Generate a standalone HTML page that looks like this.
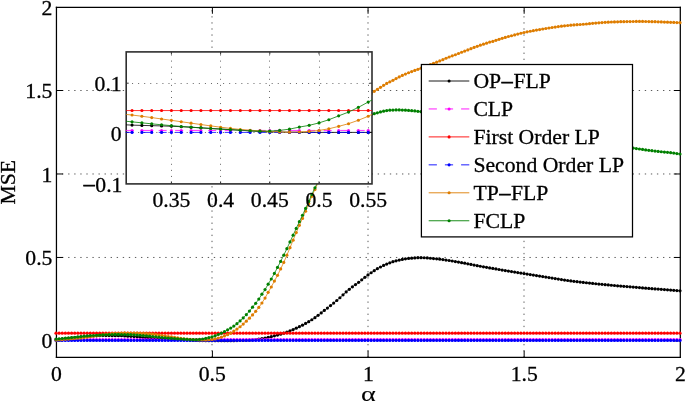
<!DOCTYPE html>
<html><head><meta charset="utf-8"><title>MSE vs alpha</title>
<style>html,body{margin:0;padding:0;background:#fff;}svg{display:block;}</style>
</head><body>
<svg width="685" height="402" viewBox="0 0 685 402">
<rect width="685" height="402" fill="#fff"/>
<defs>
<clipPath id="cm"><rect x="56.45" y="7.05" width="623.8499999999999" height="350.4"/></clipPath>
<clipPath id="ci"><rect x="126.2" y="51.9" width="245.8" height="132.0"/></clipPath>
</defs>
<g fill="none">
<line x1="212.0" y1="357.45" x2="212.0" y2="7.05" stroke="#5a5a5a" stroke-width="1" stroke-dasharray="1.35 4.72"/>
<line x1="368.0" y1="357.45" x2="368.0" y2="7.05" stroke="#5a5a5a" stroke-width="1" stroke-dasharray="1.35 4.72"/>
<line x1="524.0" y1="357.45" x2="524.0" y2="7.05" stroke="#5a5a5a" stroke-width="1" stroke-dasharray="1.35 4.72"/>
<line x1="56.0" y1="257.46" x2="680.3" y2="257.46" stroke="#5a5a5a" stroke-width="1" stroke-dasharray="1.35 4.72"/>
<line x1="56.0" y1="173.98" x2="680.3" y2="173.98" stroke="#5a5a5a" stroke-width="1" stroke-dasharray="1.35 4.72"/>
<line x1="56.0" y1="90.50" x2="680.3" y2="90.50" stroke="#5a5a5a" stroke-width="1" stroke-dasharray="1.35 4.72"/>
</g>
<g stroke="#000" stroke-width="1.3" stroke-linecap="square"><line x1="56.45" y1="7.3" x2="680.3" y2="7.3"/><line x1="56.45" y1="357.4" x2="680.3" y2="357.4"/><line x1="56.45" y1="7.3" x2="56.45" y2="357.4" stroke-width="1.25"/><line x1="680.3" y1="7.3" x2="680.3" y2="357.4" stroke-width="1.25"/></g>
<g stroke="#000" stroke-width="1">
<line x1="212.4" y1="357.45" x2="212.4" y2="350.75"/>
<line x1="212.4" y1="7.05" x2="212.4" y2="13.75"/>
<line x1="368.05" y1="357.45" x2="368.05" y2="350.75"/>
<line x1="368.05" y1="7.05" x2="368.05" y2="13.75"/>
<line x1="524.15" y1="357.45" x2="524.15" y2="350.75"/>
<line x1="524.15" y1="7.05" x2="524.15" y2="13.75"/>
<line x1="56.45" y1="340.94" x2="62.95" y2="340.94"/>
<line x1="680.3" y1="340.94" x2="673.8" y2="340.94"/>
<line x1="56.45" y1="257.46" x2="62.95" y2="257.46"/>
<line x1="680.3" y1="257.46" x2="673.8" y2="257.46"/>
<line x1="56.45" y1="173.98" x2="62.95" y2="173.98"/>
<line x1="680.3" y1="173.98" x2="673.8" y2="173.98"/>
<line x1="56.45" y1="90.5" x2="62.95" y2="90.5"/>
<line x1="680.3" y1="90.5" x2="673.8" y2="90.5"/>
</g>
<polyline points="56.00,339.68 59.12,339.31 62.24,338.95 65.36,338.60 68.48,338.26 71.60,337.94 74.72,337.61 77.84,337.28 80.96,336.96 84.08,336.68 87.20,336.44 90.32,336.21 93.44,335.99 96.56,335.79 99.68,335.66 102.80,335.60 105.92,335.61 109.04,335.62 112.16,335.64 115.28,335.66 118.40,335.69 121.52,335.77 124.64,335.93 127.76,336.14 130.88,336.37 134.00,336.60 137.12,336.87 140.24,337.19 143.36,337.52 146.48,337.83 149.60,338.07 152.72,338.21 155.84,338.32 158.96,338.40 162.08,338.49 165.20,338.60 168.32,338.75 171.44,338.94 174.56,339.14 177.68,339.35 180.80,339.55 183.92,339.75 187.04,339.95 190.16,340.17 193.28,340.39 196.40,340.52 199.52,340.57 202.64,340.62 205.76,340.65 208.88,340.68 212.00,340.68 215.12,340.68 218.24,340.68 221.36,340.68 224.48,340.68 227.60,340.68 230.72,340.67 233.84,340.63 236.96,340.57 240.08,340.51 243.20,340.43 246.32,340.34 249.44,340.20 252.56,339.96 255.68,339.58 258.80,339.11 261.92,338.60 265.04,338.04 268.16,337.37 271.28,336.64 274.40,335.85 277.52,335.03 280.64,334.13 283.76,333.14 286.88,332.05 290.00,330.84 293.12,329.54 296.24,328.15 299.36,326.69 302.48,325.14 305.60,323.47 308.72,321.67 311.84,319.75 314.96,317.64 318.08,315.31 321.20,312.88 324.32,310.45 327.44,308.03 330.56,305.58 333.68,303.08 336.80,300.49 339.92,297.73 343.04,294.84 346.16,291.97 349.28,289.28 352.40,286.87 355.52,284.60 358.64,282.30 361.76,279.84 364.88,277.29 368.00,274.92 371.12,272.74 374.24,270.64 377.36,268.71 380.48,266.99 383.60,265.47 386.72,264.06 389.84,262.78 392.96,261.70 396.08,260.83 399.20,260.06 402.32,259.38 405.44,258.83 408.56,258.45 411.68,258.15 414.80,257.89 417.92,257.71 421.04,257.65 424.16,257.74 427.28,257.95 430.40,258.23 433.52,258.53 436.64,258.83 439.76,259.18 442.88,259.59 446.00,260.05 449.12,260.51 452.24,261.00 455.36,261.53 458.48,262.08 461.60,262.64 464.72,263.22 467.84,263.84 470.96,264.47 474.08,265.09 477.20,265.69 480.32,266.25 483.44,266.80 486.56,267.34 489.68,267.88 492.80,268.42 495.92,268.97 499.04,269.51 502.16,270.04 505.28,270.57 508.40,271.08 511.52,271.59 514.64,272.09 517.76,272.59 520.88,273.09 524.00,273.58 527.12,274.09 530.24,274.60 533.36,275.10 536.48,275.60 539.60,276.10 542.72,276.59 545.84,277.08 548.96,277.57 552.08,278.07 555.20,278.57 558.32,279.07 561.44,279.55 564.56,280.03 567.68,280.48 570.80,280.92 573.92,281.32 577.04,281.71 580.16,282.07 583.28,282.43 586.40,282.77 589.52,283.10 592.64,283.43 595.76,283.74 598.88,284.05 602.00,284.36 605.12,284.66 608.24,284.95 611.36,285.23 614.48,285.51 617.60,285.78 620.72,286.05 623.84,286.31 626.96,286.58 630.08,286.85 633.20,287.11 636.32,287.37 639.44,287.62 642.56,287.88 645.68,288.13 648.80,288.38 651.92,288.63 655.04,288.88 658.16,289.12 661.28,289.36 664.40,289.61 667.52,289.85 670.64,290.08 673.76,290.32 676.88,290.55 680.00,290.78" fill="none" stroke="#000000" stroke-width="0.75"/>
<g fill="#000000">
<circle cx="56.00" cy="339.68" r="1.6"/>
<circle cx="59.12" cy="339.31" r="1.6"/>
<circle cx="62.24" cy="338.95" r="1.6"/>
<circle cx="65.36" cy="338.60" r="1.6"/>
<circle cx="68.48" cy="338.26" r="1.6"/>
<circle cx="71.60" cy="337.94" r="1.6"/>
<circle cx="74.72" cy="337.61" r="1.6"/>
<circle cx="77.84" cy="337.28" r="1.6"/>
<circle cx="80.96" cy="336.96" r="1.6"/>
<circle cx="84.08" cy="336.68" r="1.6"/>
<circle cx="87.20" cy="336.44" r="1.6"/>
<circle cx="90.32" cy="336.21" r="1.6"/>
<circle cx="93.44" cy="335.99" r="1.6"/>
<circle cx="96.56" cy="335.79" r="1.6"/>
<circle cx="99.68" cy="335.66" r="1.6"/>
<circle cx="102.80" cy="335.60" r="1.6"/>
<circle cx="105.92" cy="335.61" r="1.6"/>
<circle cx="109.04" cy="335.62" r="1.6"/>
<circle cx="112.16" cy="335.64" r="1.6"/>
<circle cx="115.28" cy="335.66" r="1.6"/>
<circle cx="118.40" cy="335.69" r="1.6"/>
<circle cx="121.52" cy="335.77" r="1.6"/>
<circle cx="124.64" cy="335.93" r="1.6"/>
<circle cx="127.76" cy="336.14" r="1.6"/>
<circle cx="130.88" cy="336.37" r="1.6"/>
<circle cx="134.00" cy="336.60" r="1.6"/>
<circle cx="137.12" cy="336.87" r="1.6"/>
<circle cx="140.24" cy="337.19" r="1.6"/>
<circle cx="143.36" cy="337.52" r="1.6"/>
<circle cx="146.48" cy="337.83" r="1.6"/>
<circle cx="149.60" cy="338.07" r="1.6"/>
<circle cx="152.72" cy="338.21" r="1.6"/>
<circle cx="155.84" cy="338.32" r="1.6"/>
<circle cx="158.96" cy="338.40" r="1.6"/>
<circle cx="162.08" cy="338.49" r="1.6"/>
<circle cx="165.20" cy="338.60" r="1.6"/>
<circle cx="168.32" cy="338.75" r="1.6"/>
<circle cx="171.44" cy="338.94" r="1.6"/>
<circle cx="174.56" cy="339.14" r="1.6"/>
<circle cx="177.68" cy="339.35" r="1.6"/>
<circle cx="180.80" cy="339.55" r="1.6"/>
<circle cx="183.92" cy="339.75" r="1.6"/>
<circle cx="187.04" cy="339.95" r="1.6"/>
<circle cx="190.16" cy="340.17" r="1.6"/>
<circle cx="193.28" cy="340.39" r="1.6"/>
<circle cx="196.40" cy="340.52" r="1.6"/>
<circle cx="199.52" cy="340.57" r="1.6"/>
<circle cx="202.64" cy="340.62" r="1.6"/>
<circle cx="205.76" cy="340.65" r="1.6"/>
<circle cx="208.88" cy="340.68" r="1.6"/>
<circle cx="212.00" cy="340.68" r="1.6"/>
<circle cx="215.12" cy="340.68" r="1.6"/>
<circle cx="218.24" cy="340.68" r="1.6"/>
<circle cx="221.36" cy="340.68" r="1.6"/>
<circle cx="224.48" cy="340.68" r="1.6"/>
<circle cx="227.60" cy="340.68" r="1.6"/>
<circle cx="230.72" cy="340.67" r="1.6"/>
<circle cx="233.84" cy="340.63" r="1.6"/>
<circle cx="236.96" cy="340.57" r="1.6"/>
<circle cx="240.08" cy="340.51" r="1.6"/>
<circle cx="243.20" cy="340.43" r="1.6"/>
<circle cx="246.32" cy="340.34" r="1.6"/>
<circle cx="249.44" cy="340.20" r="1.6"/>
<circle cx="252.56" cy="339.96" r="1.6"/>
<circle cx="255.68" cy="339.58" r="1.6"/>
<circle cx="258.80" cy="339.11" r="1.6"/>
<circle cx="261.92" cy="338.60" r="1.6"/>
<circle cx="265.04" cy="338.04" r="1.6"/>
<circle cx="268.16" cy="337.37" r="1.6"/>
<circle cx="271.28" cy="336.64" r="1.6"/>
<circle cx="274.40" cy="335.85" r="1.6"/>
<circle cx="277.52" cy="335.03" r="1.6"/>
<circle cx="280.64" cy="334.13" r="1.6"/>
<circle cx="283.76" cy="333.14" r="1.6"/>
<circle cx="286.88" cy="332.05" r="1.6"/>
<circle cx="290.00" cy="330.84" r="1.6"/>
<circle cx="293.12" cy="329.54" r="1.6"/>
<circle cx="296.24" cy="328.15" r="1.6"/>
<circle cx="299.36" cy="326.69" r="1.6"/>
<circle cx="302.48" cy="325.14" r="1.6"/>
<circle cx="305.60" cy="323.47" r="1.6"/>
<circle cx="308.72" cy="321.67" r="1.6"/>
<circle cx="311.84" cy="319.75" r="1.6"/>
<circle cx="314.96" cy="317.64" r="1.6"/>
<circle cx="318.08" cy="315.31" r="1.6"/>
<circle cx="321.20" cy="312.88" r="1.6"/>
<circle cx="324.32" cy="310.45" r="1.6"/>
<circle cx="327.44" cy="308.03" r="1.6"/>
<circle cx="330.56" cy="305.58" r="1.6"/>
<circle cx="333.68" cy="303.08" r="1.6"/>
<circle cx="336.80" cy="300.49" r="1.6"/>
<circle cx="339.92" cy="297.73" r="1.6"/>
<circle cx="343.04" cy="294.84" r="1.6"/>
<circle cx="346.16" cy="291.97" r="1.6"/>
<circle cx="349.28" cy="289.28" r="1.6"/>
<circle cx="352.40" cy="286.87" r="1.6"/>
<circle cx="355.52" cy="284.60" r="1.6"/>
<circle cx="358.64" cy="282.30" r="1.6"/>
<circle cx="361.76" cy="279.84" r="1.6"/>
<circle cx="364.88" cy="277.29" r="1.6"/>
<circle cx="368.00" cy="274.92" r="1.6"/>
<circle cx="371.12" cy="272.74" r="1.6"/>
<circle cx="374.24" cy="270.64" r="1.6"/>
<circle cx="377.36" cy="268.71" r="1.6"/>
<circle cx="380.48" cy="266.99" r="1.6"/>
<circle cx="383.60" cy="265.47" r="1.6"/>
<circle cx="386.72" cy="264.06" r="1.6"/>
<circle cx="389.84" cy="262.78" r="1.6"/>
<circle cx="392.96" cy="261.70" r="1.6"/>
<circle cx="396.08" cy="260.83" r="1.6"/>
<circle cx="399.20" cy="260.06" r="1.6"/>
<circle cx="402.32" cy="259.38" r="1.6"/>
<circle cx="405.44" cy="258.83" r="1.6"/>
<circle cx="408.56" cy="258.45" r="1.6"/>
<circle cx="411.68" cy="258.15" r="1.6"/>
<circle cx="414.80" cy="257.89" r="1.6"/>
<circle cx="417.92" cy="257.71" r="1.6"/>
<circle cx="421.04" cy="257.65" r="1.6"/>
<circle cx="424.16" cy="257.74" r="1.6"/>
<circle cx="427.28" cy="257.95" r="1.6"/>
<circle cx="430.40" cy="258.23" r="1.6"/>
<circle cx="433.52" cy="258.53" r="1.6"/>
<circle cx="436.64" cy="258.83" r="1.6"/>
<circle cx="439.76" cy="259.18" r="1.6"/>
<circle cx="442.88" cy="259.59" r="1.6"/>
<circle cx="446.00" cy="260.05" r="1.6"/>
<circle cx="449.12" cy="260.51" r="1.6"/>
<circle cx="452.24" cy="261.00" r="1.6"/>
<circle cx="455.36" cy="261.53" r="1.6"/>
<circle cx="458.48" cy="262.08" r="1.6"/>
<circle cx="461.60" cy="262.64" r="1.6"/>
<circle cx="464.72" cy="263.22" r="1.6"/>
<circle cx="467.84" cy="263.84" r="1.6"/>
<circle cx="470.96" cy="264.47" r="1.6"/>
<circle cx="474.08" cy="265.09" r="1.6"/>
<circle cx="477.20" cy="265.69" r="1.6"/>
<circle cx="480.32" cy="266.25" r="1.6"/>
<circle cx="483.44" cy="266.80" r="1.6"/>
<circle cx="486.56" cy="267.34" r="1.6"/>
<circle cx="489.68" cy="267.88" r="1.6"/>
<circle cx="492.80" cy="268.42" r="1.6"/>
<circle cx="495.92" cy="268.97" r="1.6"/>
<circle cx="499.04" cy="269.51" r="1.6"/>
<circle cx="502.16" cy="270.04" r="1.6"/>
<circle cx="505.28" cy="270.57" r="1.6"/>
<circle cx="508.40" cy="271.08" r="1.6"/>
<circle cx="511.52" cy="271.59" r="1.6"/>
<circle cx="514.64" cy="272.09" r="1.6"/>
<circle cx="517.76" cy="272.59" r="1.6"/>
<circle cx="520.88" cy="273.09" r="1.6"/>
<circle cx="524.00" cy="273.58" r="1.6"/>
<circle cx="527.12" cy="274.09" r="1.6"/>
<circle cx="530.24" cy="274.60" r="1.6"/>
<circle cx="533.36" cy="275.10" r="1.6"/>
<circle cx="536.48" cy="275.60" r="1.6"/>
<circle cx="539.60" cy="276.10" r="1.6"/>
<circle cx="542.72" cy="276.59" r="1.6"/>
<circle cx="545.84" cy="277.08" r="1.6"/>
<circle cx="548.96" cy="277.57" r="1.6"/>
<circle cx="552.08" cy="278.07" r="1.6"/>
<circle cx="555.20" cy="278.57" r="1.6"/>
<circle cx="558.32" cy="279.07" r="1.6"/>
<circle cx="561.44" cy="279.55" r="1.6"/>
<circle cx="564.56" cy="280.03" r="1.6"/>
<circle cx="567.68" cy="280.48" r="1.6"/>
<circle cx="570.80" cy="280.92" r="1.6"/>
<circle cx="573.92" cy="281.32" r="1.6"/>
<circle cx="577.04" cy="281.71" r="1.6"/>
<circle cx="580.16" cy="282.07" r="1.6"/>
<circle cx="583.28" cy="282.43" r="1.6"/>
<circle cx="586.40" cy="282.77" r="1.6"/>
<circle cx="589.52" cy="283.10" r="1.6"/>
<circle cx="592.64" cy="283.43" r="1.6"/>
<circle cx="595.76" cy="283.74" r="1.6"/>
<circle cx="598.88" cy="284.05" r="1.6"/>
<circle cx="602.00" cy="284.36" r="1.6"/>
<circle cx="605.12" cy="284.66" r="1.6"/>
<circle cx="608.24" cy="284.95" r="1.6"/>
<circle cx="611.36" cy="285.23" r="1.6"/>
<circle cx="614.48" cy="285.51" r="1.6"/>
<circle cx="617.60" cy="285.78" r="1.6"/>
<circle cx="620.72" cy="286.05" r="1.6"/>
<circle cx="623.84" cy="286.31" r="1.6"/>
<circle cx="626.96" cy="286.58" r="1.6"/>
<circle cx="630.08" cy="286.85" r="1.6"/>
<circle cx="633.20" cy="287.11" r="1.6"/>
<circle cx="636.32" cy="287.37" r="1.6"/>
<circle cx="639.44" cy="287.62" r="1.6"/>
<circle cx="642.56" cy="287.88" r="1.6"/>
<circle cx="645.68" cy="288.13" r="1.6"/>
<circle cx="648.80" cy="288.38" r="1.6"/>
<circle cx="651.92" cy="288.63" r="1.6"/>
<circle cx="655.04" cy="288.88" r="1.6"/>
<circle cx="658.16" cy="289.12" r="1.6"/>
<circle cx="661.28" cy="289.36" r="1.6"/>
<circle cx="664.40" cy="289.61" r="1.6"/>
<circle cx="667.52" cy="289.85" r="1.6"/>
<circle cx="670.64" cy="290.08" r="1.6"/>
<circle cx="673.76" cy="290.32" r="1.6"/>
<circle cx="676.88" cy="290.55" r="1.6"/>
<circle cx="680.00" cy="290.78" r="1.6"/>
</g>
<polyline points="56.00,339.63 59.12,339.63 62.24,339.63 65.36,339.63 68.48,339.63 71.60,339.63 74.72,339.63 77.84,339.63 80.96,339.63 84.08,339.63 87.20,339.63 90.32,339.63 93.44,339.63 96.56,339.63 99.68,339.63 102.80,339.63 105.92,339.63 109.04,339.63 112.16,339.63 115.28,339.63 118.40,339.63 121.52,339.63 124.64,339.63 127.76,339.63 130.88,339.63 134.00,339.63 137.12,339.63 140.24,339.63 143.36,339.63 146.48,339.63 149.60,339.63 152.72,339.63 155.84,339.63 158.96,339.63 162.08,339.63 165.20,339.63 168.32,339.63 171.44,339.63 174.56,339.63 177.68,339.63 180.80,339.63 183.92,339.63 187.04,339.63 190.16,339.63 193.28,339.63 196.40,339.63 199.52,339.63 202.64,339.63 205.76,339.63 208.88,339.63 212.00,339.63 215.12,339.63 218.24,339.63 221.36,339.63 224.48,339.63 227.60,339.63 230.72,339.63 233.84,339.63 236.96,339.63 240.08,339.63 243.20,339.63 246.32,339.63 249.44,339.63 252.56,339.63 255.68,339.63 258.80,339.63 261.92,339.63 265.04,339.63 268.16,339.63 271.28,339.63 274.40,339.63 277.52,339.63 280.64,339.63 283.76,339.63 286.88,339.63 290.00,339.63 293.12,339.63 296.24,339.63 299.36,339.63 302.48,339.63 305.60,339.63 308.72,339.63 311.84,339.63 314.96,339.63 318.08,339.63 321.20,339.63 324.32,339.63 327.44,339.63 330.56,339.63 333.68,339.63 336.80,339.63 339.92,339.63 343.04,339.63 346.16,339.63 349.28,339.63 352.40,339.63 355.52,339.63 358.64,339.63 361.76,339.63 364.88,339.63 368.00,339.63 371.12,339.63 374.24,339.63 377.36,339.63 380.48,339.63 383.60,339.63 386.72,339.63 389.84,339.63 392.96,339.63 396.08,339.63 399.20,339.63 402.32,339.63 405.44,339.63 408.56,339.63 411.68,339.63 414.80,339.63 417.92,339.63 421.04,339.63 424.16,339.63 427.28,339.63 430.40,339.63 433.52,339.63 436.64,339.63 439.76,339.63 442.88,339.63 446.00,339.63 449.12,339.63 452.24,339.63 455.36,339.63 458.48,339.63 461.60,339.63 464.72,339.63 467.84,339.63 470.96,339.63 474.08,339.63 477.20,339.63 480.32,339.63 483.44,339.63 486.56,339.63 489.68,339.63 492.80,339.63 495.92,339.63 499.04,339.63 502.16,339.63 505.28,339.63 508.40,339.63 511.52,339.63 514.64,339.63 517.76,339.63 520.88,339.63 524.00,339.63 527.12,339.63 530.24,339.63 533.36,339.63 536.48,339.63 539.60,339.63 542.72,339.63 545.84,339.63 548.96,339.63 552.08,339.63 555.20,339.63 558.32,339.63 561.44,339.63 564.56,339.63 567.68,339.63 570.80,339.63 573.92,339.63 577.04,339.63 580.16,339.63 583.28,339.63 586.40,339.63 589.52,339.63 592.64,339.63 595.76,339.63 598.88,339.63 602.00,339.63 605.12,339.63 608.24,339.63 611.36,339.63 614.48,339.63 617.60,339.63 620.72,339.63 623.84,339.63 626.96,339.63 630.08,339.63 633.20,339.63 636.32,339.63 639.44,339.63 642.56,339.63 645.68,339.63 648.80,339.63 651.92,339.63 655.04,339.63 658.16,339.63 661.28,339.63 664.40,339.63 667.52,339.63 670.64,339.63 673.76,339.63 676.88,339.63 680.00,339.63" fill="none" stroke="#ff00ff" stroke-width="0.75" stroke-dasharray="8 8"/>
<g fill="#ff00ff">
<circle cx="56.00" cy="339.63" r="1.6"/>
<circle cx="59.12" cy="339.63" r="1.6"/>
<circle cx="62.24" cy="339.63" r="1.6"/>
<circle cx="65.36" cy="339.63" r="1.6"/>
<circle cx="68.48" cy="339.63" r="1.6"/>
<circle cx="71.60" cy="339.63" r="1.6"/>
<circle cx="74.72" cy="339.63" r="1.6"/>
<circle cx="77.84" cy="339.63" r="1.6"/>
<circle cx="80.96" cy="339.63" r="1.6"/>
<circle cx="84.08" cy="339.63" r="1.6"/>
<circle cx="87.20" cy="339.63" r="1.6"/>
<circle cx="90.32" cy="339.63" r="1.6"/>
<circle cx="93.44" cy="339.63" r="1.6"/>
<circle cx="96.56" cy="339.63" r="1.6"/>
<circle cx="99.68" cy="339.63" r="1.6"/>
<circle cx="102.80" cy="339.63" r="1.6"/>
<circle cx="105.92" cy="339.63" r="1.6"/>
<circle cx="109.04" cy="339.63" r="1.6"/>
<circle cx="112.16" cy="339.63" r="1.6"/>
<circle cx="115.28" cy="339.63" r="1.6"/>
<circle cx="118.40" cy="339.63" r="1.6"/>
<circle cx="121.52" cy="339.63" r="1.6"/>
<circle cx="124.64" cy="339.63" r="1.6"/>
<circle cx="127.76" cy="339.63" r="1.6"/>
<circle cx="130.88" cy="339.63" r="1.6"/>
<circle cx="134.00" cy="339.63" r="1.6"/>
<circle cx="137.12" cy="339.63" r="1.6"/>
<circle cx="140.24" cy="339.63" r="1.6"/>
<circle cx="143.36" cy="339.63" r="1.6"/>
<circle cx="146.48" cy="339.63" r="1.6"/>
<circle cx="149.60" cy="339.63" r="1.6"/>
<circle cx="152.72" cy="339.63" r="1.6"/>
<circle cx="155.84" cy="339.63" r="1.6"/>
<circle cx="158.96" cy="339.63" r="1.6"/>
<circle cx="162.08" cy="339.63" r="1.6"/>
<circle cx="165.20" cy="339.63" r="1.6"/>
<circle cx="168.32" cy="339.63" r="1.6"/>
<circle cx="171.44" cy="339.63" r="1.6"/>
<circle cx="174.56" cy="339.63" r="1.6"/>
<circle cx="177.68" cy="339.63" r="1.6"/>
<circle cx="180.80" cy="339.63" r="1.6"/>
<circle cx="183.92" cy="339.63" r="1.6"/>
<circle cx="187.04" cy="339.63" r="1.6"/>
<circle cx="190.16" cy="339.63" r="1.6"/>
<circle cx="193.28" cy="339.63" r="1.6"/>
<circle cx="196.40" cy="339.63" r="1.6"/>
<circle cx="199.52" cy="339.63" r="1.6"/>
<circle cx="202.64" cy="339.63" r="1.6"/>
<circle cx="205.76" cy="339.63" r="1.6"/>
<circle cx="208.88" cy="339.63" r="1.6"/>
<circle cx="212.00" cy="339.63" r="1.6"/>
<circle cx="215.12" cy="339.63" r="1.6"/>
<circle cx="218.24" cy="339.63" r="1.6"/>
<circle cx="221.36" cy="339.63" r="1.6"/>
<circle cx="224.48" cy="339.63" r="1.6"/>
<circle cx="227.60" cy="339.63" r="1.6"/>
<circle cx="230.72" cy="339.63" r="1.6"/>
<circle cx="233.84" cy="339.63" r="1.6"/>
<circle cx="236.96" cy="339.63" r="1.6"/>
<circle cx="240.08" cy="339.63" r="1.6"/>
<circle cx="243.20" cy="339.63" r="1.6"/>
<circle cx="246.32" cy="339.63" r="1.6"/>
<circle cx="249.44" cy="339.63" r="1.6"/>
<circle cx="252.56" cy="339.63" r="1.6"/>
<circle cx="255.68" cy="339.63" r="1.6"/>
<circle cx="258.80" cy="339.63" r="1.6"/>
<circle cx="261.92" cy="339.63" r="1.6"/>
<circle cx="265.04" cy="339.63" r="1.6"/>
<circle cx="268.16" cy="339.63" r="1.6"/>
<circle cx="271.28" cy="339.63" r="1.6"/>
<circle cx="274.40" cy="339.63" r="1.6"/>
<circle cx="277.52" cy="339.63" r="1.6"/>
<circle cx="280.64" cy="339.63" r="1.6"/>
<circle cx="283.76" cy="339.63" r="1.6"/>
<circle cx="286.88" cy="339.63" r="1.6"/>
<circle cx="290.00" cy="339.63" r="1.6"/>
<circle cx="293.12" cy="339.63" r="1.6"/>
<circle cx="296.24" cy="339.63" r="1.6"/>
<circle cx="299.36" cy="339.63" r="1.6"/>
<circle cx="302.48" cy="339.63" r="1.6"/>
<circle cx="305.60" cy="339.63" r="1.6"/>
<circle cx="308.72" cy="339.63" r="1.6"/>
<circle cx="311.84" cy="339.63" r="1.6"/>
<circle cx="314.96" cy="339.63" r="1.6"/>
<circle cx="318.08" cy="339.63" r="1.6"/>
<circle cx="321.20" cy="339.63" r="1.6"/>
<circle cx="324.32" cy="339.63" r="1.6"/>
<circle cx="327.44" cy="339.63" r="1.6"/>
<circle cx="330.56" cy="339.63" r="1.6"/>
<circle cx="333.68" cy="339.63" r="1.6"/>
<circle cx="336.80" cy="339.63" r="1.6"/>
<circle cx="339.92" cy="339.63" r="1.6"/>
<circle cx="343.04" cy="339.63" r="1.6"/>
<circle cx="346.16" cy="339.63" r="1.6"/>
<circle cx="349.28" cy="339.63" r="1.6"/>
<circle cx="352.40" cy="339.63" r="1.6"/>
<circle cx="355.52" cy="339.63" r="1.6"/>
<circle cx="358.64" cy="339.63" r="1.6"/>
<circle cx="361.76" cy="339.63" r="1.6"/>
<circle cx="364.88" cy="339.63" r="1.6"/>
<circle cx="368.00" cy="339.63" r="1.6"/>
<circle cx="371.12" cy="339.63" r="1.6"/>
<circle cx="374.24" cy="339.63" r="1.6"/>
<circle cx="377.36" cy="339.63" r="1.6"/>
<circle cx="380.48" cy="339.63" r="1.6"/>
<circle cx="383.60" cy="339.63" r="1.6"/>
<circle cx="386.72" cy="339.63" r="1.6"/>
<circle cx="389.84" cy="339.63" r="1.6"/>
<circle cx="392.96" cy="339.63" r="1.6"/>
<circle cx="396.08" cy="339.63" r="1.6"/>
<circle cx="399.20" cy="339.63" r="1.6"/>
<circle cx="402.32" cy="339.63" r="1.6"/>
<circle cx="405.44" cy="339.63" r="1.6"/>
<circle cx="408.56" cy="339.63" r="1.6"/>
<circle cx="411.68" cy="339.63" r="1.6"/>
<circle cx="414.80" cy="339.63" r="1.6"/>
<circle cx="417.92" cy="339.63" r="1.6"/>
<circle cx="421.04" cy="339.63" r="1.6"/>
<circle cx="424.16" cy="339.63" r="1.6"/>
<circle cx="427.28" cy="339.63" r="1.6"/>
<circle cx="430.40" cy="339.63" r="1.6"/>
<circle cx="433.52" cy="339.63" r="1.6"/>
<circle cx="436.64" cy="339.63" r="1.6"/>
<circle cx="439.76" cy="339.63" r="1.6"/>
<circle cx="442.88" cy="339.63" r="1.6"/>
<circle cx="446.00" cy="339.63" r="1.6"/>
<circle cx="449.12" cy="339.63" r="1.6"/>
<circle cx="452.24" cy="339.63" r="1.6"/>
<circle cx="455.36" cy="339.63" r="1.6"/>
<circle cx="458.48" cy="339.63" r="1.6"/>
<circle cx="461.60" cy="339.63" r="1.6"/>
<circle cx="464.72" cy="339.63" r="1.6"/>
<circle cx="467.84" cy="339.63" r="1.6"/>
<circle cx="470.96" cy="339.63" r="1.6"/>
<circle cx="474.08" cy="339.63" r="1.6"/>
<circle cx="477.20" cy="339.63" r="1.6"/>
<circle cx="480.32" cy="339.63" r="1.6"/>
<circle cx="483.44" cy="339.63" r="1.6"/>
<circle cx="486.56" cy="339.63" r="1.6"/>
<circle cx="489.68" cy="339.63" r="1.6"/>
<circle cx="492.80" cy="339.63" r="1.6"/>
<circle cx="495.92" cy="339.63" r="1.6"/>
<circle cx="499.04" cy="339.63" r="1.6"/>
<circle cx="502.16" cy="339.63" r="1.6"/>
<circle cx="505.28" cy="339.63" r="1.6"/>
<circle cx="508.40" cy="339.63" r="1.6"/>
<circle cx="511.52" cy="339.63" r="1.6"/>
<circle cx="514.64" cy="339.63" r="1.6"/>
<circle cx="517.76" cy="339.63" r="1.6"/>
<circle cx="520.88" cy="339.63" r="1.6"/>
<circle cx="524.00" cy="339.63" r="1.6"/>
<circle cx="527.12" cy="339.63" r="1.6"/>
<circle cx="530.24" cy="339.63" r="1.6"/>
<circle cx="533.36" cy="339.63" r="1.6"/>
<circle cx="536.48" cy="339.63" r="1.6"/>
<circle cx="539.60" cy="339.63" r="1.6"/>
<circle cx="542.72" cy="339.63" r="1.6"/>
<circle cx="545.84" cy="339.63" r="1.6"/>
<circle cx="548.96" cy="339.63" r="1.6"/>
<circle cx="552.08" cy="339.63" r="1.6"/>
<circle cx="555.20" cy="339.63" r="1.6"/>
<circle cx="558.32" cy="339.63" r="1.6"/>
<circle cx="561.44" cy="339.63" r="1.6"/>
<circle cx="564.56" cy="339.63" r="1.6"/>
<circle cx="567.68" cy="339.63" r="1.6"/>
<circle cx="570.80" cy="339.63" r="1.6"/>
<circle cx="573.92" cy="339.63" r="1.6"/>
<circle cx="577.04" cy="339.63" r="1.6"/>
<circle cx="580.16" cy="339.63" r="1.6"/>
<circle cx="583.28" cy="339.63" r="1.6"/>
<circle cx="586.40" cy="339.63" r="1.6"/>
<circle cx="589.52" cy="339.63" r="1.6"/>
<circle cx="592.64" cy="339.63" r="1.6"/>
<circle cx="595.76" cy="339.63" r="1.6"/>
<circle cx="598.88" cy="339.63" r="1.6"/>
<circle cx="602.00" cy="339.63" r="1.6"/>
<circle cx="605.12" cy="339.63" r="1.6"/>
<circle cx="608.24" cy="339.63" r="1.6"/>
<circle cx="611.36" cy="339.63" r="1.6"/>
<circle cx="614.48" cy="339.63" r="1.6"/>
<circle cx="617.60" cy="339.63" r="1.6"/>
<circle cx="620.72" cy="339.63" r="1.6"/>
<circle cx="623.84" cy="339.63" r="1.6"/>
<circle cx="626.96" cy="339.63" r="1.6"/>
<circle cx="630.08" cy="339.63" r="1.6"/>
<circle cx="633.20" cy="339.63" r="1.6"/>
<circle cx="636.32" cy="339.63" r="1.6"/>
<circle cx="639.44" cy="339.63" r="1.6"/>
<circle cx="642.56" cy="339.63" r="1.6"/>
<circle cx="645.68" cy="339.63" r="1.6"/>
<circle cx="648.80" cy="339.63" r="1.6"/>
<circle cx="651.92" cy="339.63" r="1.6"/>
<circle cx="655.04" cy="339.63" r="1.6"/>
<circle cx="658.16" cy="339.63" r="1.6"/>
<circle cx="661.28" cy="339.63" r="1.6"/>
<circle cx="664.40" cy="339.63" r="1.6"/>
<circle cx="667.52" cy="339.63" r="1.6"/>
<circle cx="670.64" cy="339.63" r="1.6"/>
<circle cx="673.76" cy="339.63" r="1.6"/>
<circle cx="676.88" cy="339.63" r="1.6"/>
<circle cx="680.00" cy="339.63" r="1.6"/>
</g>
<polyline points="56.00,333.19 59.12,333.19 62.24,333.19 65.36,333.19 68.48,333.19 71.60,333.19 74.72,333.19 77.84,333.19 80.96,333.19 84.08,333.19 87.20,333.19 90.32,333.19 93.44,333.19 96.56,333.19 99.68,333.19 102.80,333.19 105.92,333.19 109.04,333.19 112.16,333.19 115.28,333.19 118.40,333.19 121.52,333.19 124.64,333.19 127.76,333.19 130.88,333.19 134.00,333.19 137.12,333.19 140.24,333.19 143.36,333.19 146.48,333.19 149.60,333.19 152.72,333.19 155.84,333.19 158.96,333.19 162.08,333.19 165.20,333.19 168.32,333.19 171.44,333.19 174.56,333.19 177.68,333.19 180.80,333.19 183.92,333.19 187.04,333.19 190.16,333.19 193.28,333.19 196.40,333.19 199.52,333.19 202.64,333.19 205.76,333.19 208.88,333.19 212.00,333.19 215.12,333.19 218.24,333.19 221.36,333.19 224.48,333.19 227.60,333.19 230.72,333.19 233.84,333.19 236.96,333.19 240.08,333.19 243.20,333.19 246.32,333.19 249.44,333.19 252.56,333.19 255.68,333.19 258.80,333.19 261.92,333.19 265.04,333.19 268.16,333.19 271.28,333.19 274.40,333.19 277.52,333.19 280.64,333.19 283.76,333.19 286.88,333.19 290.00,333.19 293.12,333.19 296.24,333.19 299.36,333.19 302.48,333.19 305.60,333.19 308.72,333.19 311.84,333.19 314.96,333.19 318.08,333.19 321.20,333.19 324.32,333.19 327.44,333.19 330.56,333.19 333.68,333.19 336.80,333.19 339.92,333.19 343.04,333.19 346.16,333.19 349.28,333.19 352.40,333.19 355.52,333.19 358.64,333.19 361.76,333.19 364.88,333.19 368.00,333.19 371.12,333.19 374.24,333.19 377.36,333.19 380.48,333.19 383.60,333.19 386.72,333.19 389.84,333.19 392.96,333.19 396.08,333.19 399.20,333.19 402.32,333.19 405.44,333.19 408.56,333.19 411.68,333.19 414.80,333.19 417.92,333.19 421.04,333.19 424.16,333.19 427.28,333.19 430.40,333.19 433.52,333.19 436.64,333.19 439.76,333.19 442.88,333.19 446.00,333.19 449.12,333.19 452.24,333.19 455.36,333.19 458.48,333.19 461.60,333.19 464.72,333.19 467.84,333.19 470.96,333.19 474.08,333.19 477.20,333.19 480.32,333.19 483.44,333.19 486.56,333.19 489.68,333.19 492.80,333.19 495.92,333.19 499.04,333.19 502.16,333.19 505.28,333.19 508.40,333.19 511.52,333.19 514.64,333.19 517.76,333.19 520.88,333.19 524.00,333.19 527.12,333.19 530.24,333.19 533.36,333.19 536.48,333.19 539.60,333.19 542.72,333.19 545.84,333.19 548.96,333.19 552.08,333.19 555.20,333.19 558.32,333.19 561.44,333.19 564.56,333.19 567.68,333.19 570.80,333.19 573.92,333.19 577.04,333.19 580.16,333.19 583.28,333.19 586.40,333.19 589.52,333.19 592.64,333.19 595.76,333.19 598.88,333.19 602.00,333.19 605.12,333.19 608.24,333.19 611.36,333.19 614.48,333.19 617.60,333.19 620.72,333.19 623.84,333.19 626.96,333.19 630.08,333.19 633.20,333.19 636.32,333.19 639.44,333.19 642.56,333.19 645.68,333.19 648.80,333.19 651.92,333.19 655.04,333.19 658.16,333.19 661.28,333.19 664.40,333.19 667.52,333.19 670.64,333.19 673.76,333.19 676.88,333.19 680.00,333.19" fill="none" stroke="#ff0000" stroke-width="0.75"/>
<g fill="#ff0000">
<circle cx="56.00" cy="333.19" r="1.6"/>
<circle cx="59.12" cy="333.19" r="1.6"/>
<circle cx="62.24" cy="333.19" r="1.6"/>
<circle cx="65.36" cy="333.19" r="1.6"/>
<circle cx="68.48" cy="333.19" r="1.6"/>
<circle cx="71.60" cy="333.19" r="1.6"/>
<circle cx="74.72" cy="333.19" r="1.6"/>
<circle cx="77.84" cy="333.19" r="1.6"/>
<circle cx="80.96" cy="333.19" r="1.6"/>
<circle cx="84.08" cy="333.19" r="1.6"/>
<circle cx="87.20" cy="333.19" r="1.6"/>
<circle cx="90.32" cy="333.19" r="1.6"/>
<circle cx="93.44" cy="333.19" r="1.6"/>
<circle cx="96.56" cy="333.19" r="1.6"/>
<circle cx="99.68" cy="333.19" r="1.6"/>
<circle cx="102.80" cy="333.19" r="1.6"/>
<circle cx="105.92" cy="333.19" r="1.6"/>
<circle cx="109.04" cy="333.19" r="1.6"/>
<circle cx="112.16" cy="333.19" r="1.6"/>
<circle cx="115.28" cy="333.19" r="1.6"/>
<circle cx="118.40" cy="333.19" r="1.6"/>
<circle cx="121.52" cy="333.19" r="1.6"/>
<circle cx="124.64" cy="333.19" r="1.6"/>
<circle cx="127.76" cy="333.19" r="1.6"/>
<circle cx="130.88" cy="333.19" r="1.6"/>
<circle cx="134.00" cy="333.19" r="1.6"/>
<circle cx="137.12" cy="333.19" r="1.6"/>
<circle cx="140.24" cy="333.19" r="1.6"/>
<circle cx="143.36" cy="333.19" r="1.6"/>
<circle cx="146.48" cy="333.19" r="1.6"/>
<circle cx="149.60" cy="333.19" r="1.6"/>
<circle cx="152.72" cy="333.19" r="1.6"/>
<circle cx="155.84" cy="333.19" r="1.6"/>
<circle cx="158.96" cy="333.19" r="1.6"/>
<circle cx="162.08" cy="333.19" r="1.6"/>
<circle cx="165.20" cy="333.19" r="1.6"/>
<circle cx="168.32" cy="333.19" r="1.6"/>
<circle cx="171.44" cy="333.19" r="1.6"/>
<circle cx="174.56" cy="333.19" r="1.6"/>
<circle cx="177.68" cy="333.19" r="1.6"/>
<circle cx="180.80" cy="333.19" r="1.6"/>
<circle cx="183.92" cy="333.19" r="1.6"/>
<circle cx="187.04" cy="333.19" r="1.6"/>
<circle cx="190.16" cy="333.19" r="1.6"/>
<circle cx="193.28" cy="333.19" r="1.6"/>
<circle cx="196.40" cy="333.19" r="1.6"/>
<circle cx="199.52" cy="333.19" r="1.6"/>
<circle cx="202.64" cy="333.19" r="1.6"/>
<circle cx="205.76" cy="333.19" r="1.6"/>
<circle cx="208.88" cy="333.19" r="1.6"/>
<circle cx="212.00" cy="333.19" r="1.6"/>
<circle cx="215.12" cy="333.19" r="1.6"/>
<circle cx="218.24" cy="333.19" r="1.6"/>
<circle cx="221.36" cy="333.19" r="1.6"/>
<circle cx="224.48" cy="333.19" r="1.6"/>
<circle cx="227.60" cy="333.19" r="1.6"/>
<circle cx="230.72" cy="333.19" r="1.6"/>
<circle cx="233.84" cy="333.19" r="1.6"/>
<circle cx="236.96" cy="333.19" r="1.6"/>
<circle cx="240.08" cy="333.19" r="1.6"/>
<circle cx="243.20" cy="333.19" r="1.6"/>
<circle cx="246.32" cy="333.19" r="1.6"/>
<circle cx="249.44" cy="333.19" r="1.6"/>
<circle cx="252.56" cy="333.19" r="1.6"/>
<circle cx="255.68" cy="333.19" r="1.6"/>
<circle cx="258.80" cy="333.19" r="1.6"/>
<circle cx="261.92" cy="333.19" r="1.6"/>
<circle cx="265.04" cy="333.19" r="1.6"/>
<circle cx="268.16" cy="333.19" r="1.6"/>
<circle cx="271.28" cy="333.19" r="1.6"/>
<circle cx="274.40" cy="333.19" r="1.6"/>
<circle cx="277.52" cy="333.19" r="1.6"/>
<circle cx="280.64" cy="333.19" r="1.6"/>
<circle cx="283.76" cy="333.19" r="1.6"/>
<circle cx="286.88" cy="333.19" r="1.6"/>
<circle cx="290.00" cy="333.19" r="1.6"/>
<circle cx="293.12" cy="333.19" r="1.6"/>
<circle cx="296.24" cy="333.19" r="1.6"/>
<circle cx="299.36" cy="333.19" r="1.6"/>
<circle cx="302.48" cy="333.19" r="1.6"/>
<circle cx="305.60" cy="333.19" r="1.6"/>
<circle cx="308.72" cy="333.19" r="1.6"/>
<circle cx="311.84" cy="333.19" r="1.6"/>
<circle cx="314.96" cy="333.19" r="1.6"/>
<circle cx="318.08" cy="333.19" r="1.6"/>
<circle cx="321.20" cy="333.19" r="1.6"/>
<circle cx="324.32" cy="333.19" r="1.6"/>
<circle cx="327.44" cy="333.19" r="1.6"/>
<circle cx="330.56" cy="333.19" r="1.6"/>
<circle cx="333.68" cy="333.19" r="1.6"/>
<circle cx="336.80" cy="333.19" r="1.6"/>
<circle cx="339.92" cy="333.19" r="1.6"/>
<circle cx="343.04" cy="333.19" r="1.6"/>
<circle cx="346.16" cy="333.19" r="1.6"/>
<circle cx="349.28" cy="333.19" r="1.6"/>
<circle cx="352.40" cy="333.19" r="1.6"/>
<circle cx="355.52" cy="333.19" r="1.6"/>
<circle cx="358.64" cy="333.19" r="1.6"/>
<circle cx="361.76" cy="333.19" r="1.6"/>
<circle cx="364.88" cy="333.19" r="1.6"/>
<circle cx="368.00" cy="333.19" r="1.6"/>
<circle cx="371.12" cy="333.19" r="1.6"/>
<circle cx="374.24" cy="333.19" r="1.6"/>
<circle cx="377.36" cy="333.19" r="1.6"/>
<circle cx="380.48" cy="333.19" r="1.6"/>
<circle cx="383.60" cy="333.19" r="1.6"/>
<circle cx="386.72" cy="333.19" r="1.6"/>
<circle cx="389.84" cy="333.19" r="1.6"/>
<circle cx="392.96" cy="333.19" r="1.6"/>
<circle cx="396.08" cy="333.19" r="1.6"/>
<circle cx="399.20" cy="333.19" r="1.6"/>
<circle cx="402.32" cy="333.19" r="1.6"/>
<circle cx="405.44" cy="333.19" r="1.6"/>
<circle cx="408.56" cy="333.19" r="1.6"/>
<circle cx="411.68" cy="333.19" r="1.6"/>
<circle cx="414.80" cy="333.19" r="1.6"/>
<circle cx="417.92" cy="333.19" r="1.6"/>
<circle cx="421.04" cy="333.19" r="1.6"/>
<circle cx="424.16" cy="333.19" r="1.6"/>
<circle cx="427.28" cy="333.19" r="1.6"/>
<circle cx="430.40" cy="333.19" r="1.6"/>
<circle cx="433.52" cy="333.19" r="1.6"/>
<circle cx="436.64" cy="333.19" r="1.6"/>
<circle cx="439.76" cy="333.19" r="1.6"/>
<circle cx="442.88" cy="333.19" r="1.6"/>
<circle cx="446.00" cy="333.19" r="1.6"/>
<circle cx="449.12" cy="333.19" r="1.6"/>
<circle cx="452.24" cy="333.19" r="1.6"/>
<circle cx="455.36" cy="333.19" r="1.6"/>
<circle cx="458.48" cy="333.19" r="1.6"/>
<circle cx="461.60" cy="333.19" r="1.6"/>
<circle cx="464.72" cy="333.19" r="1.6"/>
<circle cx="467.84" cy="333.19" r="1.6"/>
<circle cx="470.96" cy="333.19" r="1.6"/>
<circle cx="474.08" cy="333.19" r="1.6"/>
<circle cx="477.20" cy="333.19" r="1.6"/>
<circle cx="480.32" cy="333.19" r="1.6"/>
<circle cx="483.44" cy="333.19" r="1.6"/>
<circle cx="486.56" cy="333.19" r="1.6"/>
<circle cx="489.68" cy="333.19" r="1.6"/>
<circle cx="492.80" cy="333.19" r="1.6"/>
<circle cx="495.92" cy="333.19" r="1.6"/>
<circle cx="499.04" cy="333.19" r="1.6"/>
<circle cx="502.16" cy="333.19" r="1.6"/>
<circle cx="505.28" cy="333.19" r="1.6"/>
<circle cx="508.40" cy="333.19" r="1.6"/>
<circle cx="511.52" cy="333.19" r="1.6"/>
<circle cx="514.64" cy="333.19" r="1.6"/>
<circle cx="517.76" cy="333.19" r="1.6"/>
<circle cx="520.88" cy="333.19" r="1.6"/>
<circle cx="524.00" cy="333.19" r="1.6"/>
<circle cx="527.12" cy="333.19" r="1.6"/>
<circle cx="530.24" cy="333.19" r="1.6"/>
<circle cx="533.36" cy="333.19" r="1.6"/>
<circle cx="536.48" cy="333.19" r="1.6"/>
<circle cx="539.60" cy="333.19" r="1.6"/>
<circle cx="542.72" cy="333.19" r="1.6"/>
<circle cx="545.84" cy="333.19" r="1.6"/>
<circle cx="548.96" cy="333.19" r="1.6"/>
<circle cx="552.08" cy="333.19" r="1.6"/>
<circle cx="555.20" cy="333.19" r="1.6"/>
<circle cx="558.32" cy="333.19" r="1.6"/>
<circle cx="561.44" cy="333.19" r="1.6"/>
<circle cx="564.56" cy="333.19" r="1.6"/>
<circle cx="567.68" cy="333.19" r="1.6"/>
<circle cx="570.80" cy="333.19" r="1.6"/>
<circle cx="573.92" cy="333.19" r="1.6"/>
<circle cx="577.04" cy="333.19" r="1.6"/>
<circle cx="580.16" cy="333.19" r="1.6"/>
<circle cx="583.28" cy="333.19" r="1.6"/>
<circle cx="586.40" cy="333.19" r="1.6"/>
<circle cx="589.52" cy="333.19" r="1.6"/>
<circle cx="592.64" cy="333.19" r="1.6"/>
<circle cx="595.76" cy="333.19" r="1.6"/>
<circle cx="598.88" cy="333.19" r="1.6"/>
<circle cx="602.00" cy="333.19" r="1.6"/>
<circle cx="605.12" cy="333.19" r="1.6"/>
<circle cx="608.24" cy="333.19" r="1.6"/>
<circle cx="611.36" cy="333.19" r="1.6"/>
<circle cx="614.48" cy="333.19" r="1.6"/>
<circle cx="617.60" cy="333.19" r="1.6"/>
<circle cx="620.72" cy="333.19" r="1.6"/>
<circle cx="623.84" cy="333.19" r="1.6"/>
<circle cx="626.96" cy="333.19" r="1.6"/>
<circle cx="630.08" cy="333.19" r="1.6"/>
<circle cx="633.20" cy="333.19" r="1.6"/>
<circle cx="636.32" cy="333.19" r="1.6"/>
<circle cx="639.44" cy="333.19" r="1.6"/>
<circle cx="642.56" cy="333.19" r="1.6"/>
<circle cx="645.68" cy="333.19" r="1.6"/>
<circle cx="648.80" cy="333.19" r="1.6"/>
<circle cx="651.92" cy="333.19" r="1.6"/>
<circle cx="655.04" cy="333.19" r="1.6"/>
<circle cx="658.16" cy="333.19" r="1.6"/>
<circle cx="661.28" cy="333.19" r="1.6"/>
<circle cx="664.40" cy="333.19" r="1.6"/>
<circle cx="667.52" cy="333.19" r="1.6"/>
<circle cx="670.64" cy="333.19" r="1.6"/>
<circle cx="673.76" cy="333.19" r="1.6"/>
<circle cx="676.88" cy="333.19" r="1.6"/>
<circle cx="680.00" cy="333.19" r="1.6"/>
</g>
<polyline points="56.00,340.40 59.12,340.40 62.24,340.40 65.36,340.40 68.48,340.40 71.60,340.40 74.72,340.40 77.84,340.40 80.96,340.40 84.08,340.40 87.20,340.40 90.32,340.40 93.44,340.40 96.56,340.40 99.68,340.40 102.80,340.40 105.92,340.40 109.04,340.40 112.16,340.40 115.28,340.40 118.40,340.40 121.52,340.40 124.64,340.40 127.76,340.40 130.88,340.40 134.00,340.40 137.12,340.40 140.24,340.40 143.36,340.40 146.48,340.40 149.60,340.40 152.72,340.40 155.84,340.40 158.96,340.40 162.08,340.40 165.20,340.40 168.32,340.40 171.44,340.40 174.56,340.40 177.68,340.40 180.80,340.40 183.92,340.40 187.04,340.40 190.16,340.40 193.28,340.40 196.40,340.40 199.52,340.40 202.64,340.40 205.76,340.40 208.88,340.40 212.00,340.40 215.12,340.40 218.24,340.40 221.36,340.40 224.48,340.40 227.60,340.40 230.72,340.40 233.84,340.40 236.96,340.40 240.08,340.40 243.20,340.40 246.32,340.40 249.44,340.40 252.56,340.40 255.68,340.40 258.80,340.40 261.92,340.40 265.04,340.40 268.16,340.40 271.28,340.40 274.40,340.40 277.52,340.40 280.64,340.40 283.76,340.40 286.88,340.40 290.00,340.40 293.12,340.40 296.24,340.40 299.36,340.40 302.48,340.40 305.60,340.40 308.72,340.40 311.84,340.40 314.96,340.40 318.08,340.40 321.20,340.40 324.32,340.40 327.44,340.40 330.56,340.40 333.68,340.40 336.80,340.40 339.92,340.40 343.04,340.40 346.16,340.40 349.28,340.40 352.40,340.40 355.52,340.40 358.64,340.40 361.76,340.40 364.88,340.40 368.00,340.40 371.12,340.40 374.24,340.40 377.36,340.40 380.48,340.40 383.60,340.40 386.72,340.40 389.84,340.40 392.96,340.40 396.08,340.40 399.20,340.40 402.32,340.40 405.44,340.40 408.56,340.40 411.68,340.40 414.80,340.40 417.92,340.40 421.04,340.40 424.16,340.40 427.28,340.40 430.40,340.40 433.52,340.40 436.64,340.40 439.76,340.40 442.88,340.40 446.00,340.40 449.12,340.40 452.24,340.40 455.36,340.40 458.48,340.40 461.60,340.40 464.72,340.40 467.84,340.40 470.96,340.40 474.08,340.40 477.20,340.40 480.32,340.40 483.44,340.40 486.56,340.40 489.68,340.40 492.80,340.40 495.92,340.40 499.04,340.40 502.16,340.40 505.28,340.40 508.40,340.40 511.52,340.40 514.64,340.40 517.76,340.40 520.88,340.40 524.00,340.40 527.12,340.40 530.24,340.40 533.36,340.40 536.48,340.40 539.60,340.40 542.72,340.40 545.84,340.40 548.96,340.40 552.08,340.40 555.20,340.40 558.32,340.40 561.44,340.40 564.56,340.40 567.68,340.40 570.80,340.40 573.92,340.40 577.04,340.40 580.16,340.40 583.28,340.40 586.40,340.40 589.52,340.40 592.64,340.40 595.76,340.40 598.88,340.40 602.00,340.40 605.12,340.40 608.24,340.40 611.36,340.40 614.48,340.40 617.60,340.40 620.72,340.40 623.84,340.40 626.96,340.40 630.08,340.40 633.20,340.40 636.32,340.40 639.44,340.40 642.56,340.40 645.68,340.40 648.80,340.40 651.92,340.40 655.04,340.40 658.16,340.40 661.28,340.40 664.40,340.40 667.52,340.40 670.64,340.40 673.76,340.40 676.88,340.40 680.00,340.40" fill="none" stroke="#0000ff" stroke-width="0.75" stroke-dasharray="8 8"/>
<g fill="#0000ff">
<circle cx="56.00" cy="340.40" r="1.6"/>
<circle cx="59.12" cy="340.40" r="1.6"/>
<circle cx="62.24" cy="340.40" r="1.6"/>
<circle cx="65.36" cy="340.40" r="1.6"/>
<circle cx="68.48" cy="340.40" r="1.6"/>
<circle cx="71.60" cy="340.40" r="1.6"/>
<circle cx="74.72" cy="340.40" r="1.6"/>
<circle cx="77.84" cy="340.40" r="1.6"/>
<circle cx="80.96" cy="340.40" r="1.6"/>
<circle cx="84.08" cy="340.40" r="1.6"/>
<circle cx="87.20" cy="340.40" r="1.6"/>
<circle cx="90.32" cy="340.40" r="1.6"/>
<circle cx="93.44" cy="340.40" r="1.6"/>
<circle cx="96.56" cy="340.40" r="1.6"/>
<circle cx="99.68" cy="340.40" r="1.6"/>
<circle cx="102.80" cy="340.40" r="1.6"/>
<circle cx="105.92" cy="340.40" r="1.6"/>
<circle cx="109.04" cy="340.40" r="1.6"/>
<circle cx="112.16" cy="340.40" r="1.6"/>
<circle cx="115.28" cy="340.40" r="1.6"/>
<circle cx="118.40" cy="340.40" r="1.6"/>
<circle cx="121.52" cy="340.40" r="1.6"/>
<circle cx="124.64" cy="340.40" r="1.6"/>
<circle cx="127.76" cy="340.40" r="1.6"/>
<circle cx="130.88" cy="340.40" r="1.6"/>
<circle cx="134.00" cy="340.40" r="1.6"/>
<circle cx="137.12" cy="340.40" r="1.6"/>
<circle cx="140.24" cy="340.40" r="1.6"/>
<circle cx="143.36" cy="340.40" r="1.6"/>
<circle cx="146.48" cy="340.40" r="1.6"/>
<circle cx="149.60" cy="340.40" r="1.6"/>
<circle cx="152.72" cy="340.40" r="1.6"/>
<circle cx="155.84" cy="340.40" r="1.6"/>
<circle cx="158.96" cy="340.40" r="1.6"/>
<circle cx="162.08" cy="340.40" r="1.6"/>
<circle cx="165.20" cy="340.40" r="1.6"/>
<circle cx="168.32" cy="340.40" r="1.6"/>
<circle cx="171.44" cy="340.40" r="1.6"/>
<circle cx="174.56" cy="340.40" r="1.6"/>
<circle cx="177.68" cy="340.40" r="1.6"/>
<circle cx="180.80" cy="340.40" r="1.6"/>
<circle cx="183.92" cy="340.40" r="1.6"/>
<circle cx="187.04" cy="340.40" r="1.6"/>
<circle cx="190.16" cy="340.40" r="1.6"/>
<circle cx="193.28" cy="340.40" r="1.6"/>
<circle cx="196.40" cy="340.40" r="1.6"/>
<circle cx="199.52" cy="340.40" r="1.6"/>
<circle cx="202.64" cy="340.40" r="1.6"/>
<circle cx="205.76" cy="340.40" r="1.6"/>
<circle cx="208.88" cy="340.40" r="1.6"/>
<circle cx="212.00" cy="340.40" r="1.6"/>
<circle cx="215.12" cy="340.40" r="1.6"/>
<circle cx="218.24" cy="340.40" r="1.6"/>
<circle cx="221.36" cy="340.40" r="1.6"/>
<circle cx="224.48" cy="340.40" r="1.6"/>
<circle cx="227.60" cy="340.40" r="1.6"/>
<circle cx="230.72" cy="340.40" r="1.6"/>
<circle cx="233.84" cy="340.40" r="1.6"/>
<circle cx="236.96" cy="340.40" r="1.6"/>
<circle cx="240.08" cy="340.40" r="1.6"/>
<circle cx="243.20" cy="340.40" r="1.6"/>
<circle cx="246.32" cy="340.40" r="1.6"/>
<circle cx="249.44" cy="340.40" r="1.6"/>
<circle cx="252.56" cy="340.40" r="1.6"/>
<circle cx="255.68" cy="340.40" r="1.6"/>
<circle cx="258.80" cy="340.40" r="1.6"/>
<circle cx="261.92" cy="340.40" r="1.6"/>
<circle cx="265.04" cy="340.40" r="1.6"/>
<circle cx="268.16" cy="340.40" r="1.6"/>
<circle cx="271.28" cy="340.40" r="1.6"/>
<circle cx="274.40" cy="340.40" r="1.6"/>
<circle cx="277.52" cy="340.40" r="1.6"/>
<circle cx="280.64" cy="340.40" r="1.6"/>
<circle cx="283.76" cy="340.40" r="1.6"/>
<circle cx="286.88" cy="340.40" r="1.6"/>
<circle cx="290.00" cy="340.40" r="1.6"/>
<circle cx="293.12" cy="340.40" r="1.6"/>
<circle cx="296.24" cy="340.40" r="1.6"/>
<circle cx="299.36" cy="340.40" r="1.6"/>
<circle cx="302.48" cy="340.40" r="1.6"/>
<circle cx="305.60" cy="340.40" r="1.6"/>
<circle cx="308.72" cy="340.40" r="1.6"/>
<circle cx="311.84" cy="340.40" r="1.6"/>
<circle cx="314.96" cy="340.40" r="1.6"/>
<circle cx="318.08" cy="340.40" r="1.6"/>
<circle cx="321.20" cy="340.40" r="1.6"/>
<circle cx="324.32" cy="340.40" r="1.6"/>
<circle cx="327.44" cy="340.40" r="1.6"/>
<circle cx="330.56" cy="340.40" r="1.6"/>
<circle cx="333.68" cy="340.40" r="1.6"/>
<circle cx="336.80" cy="340.40" r="1.6"/>
<circle cx="339.92" cy="340.40" r="1.6"/>
<circle cx="343.04" cy="340.40" r="1.6"/>
<circle cx="346.16" cy="340.40" r="1.6"/>
<circle cx="349.28" cy="340.40" r="1.6"/>
<circle cx="352.40" cy="340.40" r="1.6"/>
<circle cx="355.52" cy="340.40" r="1.6"/>
<circle cx="358.64" cy="340.40" r="1.6"/>
<circle cx="361.76" cy="340.40" r="1.6"/>
<circle cx="364.88" cy="340.40" r="1.6"/>
<circle cx="368.00" cy="340.40" r="1.6"/>
<circle cx="371.12" cy="340.40" r="1.6"/>
<circle cx="374.24" cy="340.40" r="1.6"/>
<circle cx="377.36" cy="340.40" r="1.6"/>
<circle cx="380.48" cy="340.40" r="1.6"/>
<circle cx="383.60" cy="340.40" r="1.6"/>
<circle cx="386.72" cy="340.40" r="1.6"/>
<circle cx="389.84" cy="340.40" r="1.6"/>
<circle cx="392.96" cy="340.40" r="1.6"/>
<circle cx="396.08" cy="340.40" r="1.6"/>
<circle cx="399.20" cy="340.40" r="1.6"/>
<circle cx="402.32" cy="340.40" r="1.6"/>
<circle cx="405.44" cy="340.40" r="1.6"/>
<circle cx="408.56" cy="340.40" r="1.6"/>
<circle cx="411.68" cy="340.40" r="1.6"/>
<circle cx="414.80" cy="340.40" r="1.6"/>
<circle cx="417.92" cy="340.40" r="1.6"/>
<circle cx="421.04" cy="340.40" r="1.6"/>
<circle cx="424.16" cy="340.40" r="1.6"/>
<circle cx="427.28" cy="340.40" r="1.6"/>
<circle cx="430.40" cy="340.40" r="1.6"/>
<circle cx="433.52" cy="340.40" r="1.6"/>
<circle cx="436.64" cy="340.40" r="1.6"/>
<circle cx="439.76" cy="340.40" r="1.6"/>
<circle cx="442.88" cy="340.40" r="1.6"/>
<circle cx="446.00" cy="340.40" r="1.6"/>
<circle cx="449.12" cy="340.40" r="1.6"/>
<circle cx="452.24" cy="340.40" r="1.6"/>
<circle cx="455.36" cy="340.40" r="1.6"/>
<circle cx="458.48" cy="340.40" r="1.6"/>
<circle cx="461.60" cy="340.40" r="1.6"/>
<circle cx="464.72" cy="340.40" r="1.6"/>
<circle cx="467.84" cy="340.40" r="1.6"/>
<circle cx="470.96" cy="340.40" r="1.6"/>
<circle cx="474.08" cy="340.40" r="1.6"/>
<circle cx="477.20" cy="340.40" r="1.6"/>
<circle cx="480.32" cy="340.40" r="1.6"/>
<circle cx="483.44" cy="340.40" r="1.6"/>
<circle cx="486.56" cy="340.40" r="1.6"/>
<circle cx="489.68" cy="340.40" r="1.6"/>
<circle cx="492.80" cy="340.40" r="1.6"/>
<circle cx="495.92" cy="340.40" r="1.6"/>
<circle cx="499.04" cy="340.40" r="1.6"/>
<circle cx="502.16" cy="340.40" r="1.6"/>
<circle cx="505.28" cy="340.40" r="1.6"/>
<circle cx="508.40" cy="340.40" r="1.6"/>
<circle cx="511.52" cy="340.40" r="1.6"/>
<circle cx="514.64" cy="340.40" r="1.6"/>
<circle cx="517.76" cy="340.40" r="1.6"/>
<circle cx="520.88" cy="340.40" r="1.6"/>
<circle cx="524.00" cy="340.40" r="1.6"/>
<circle cx="527.12" cy="340.40" r="1.6"/>
<circle cx="530.24" cy="340.40" r="1.6"/>
<circle cx="533.36" cy="340.40" r="1.6"/>
<circle cx="536.48" cy="340.40" r="1.6"/>
<circle cx="539.60" cy="340.40" r="1.6"/>
<circle cx="542.72" cy="340.40" r="1.6"/>
<circle cx="545.84" cy="340.40" r="1.6"/>
<circle cx="548.96" cy="340.40" r="1.6"/>
<circle cx="552.08" cy="340.40" r="1.6"/>
<circle cx="555.20" cy="340.40" r="1.6"/>
<circle cx="558.32" cy="340.40" r="1.6"/>
<circle cx="561.44" cy="340.40" r="1.6"/>
<circle cx="564.56" cy="340.40" r="1.6"/>
<circle cx="567.68" cy="340.40" r="1.6"/>
<circle cx="570.80" cy="340.40" r="1.6"/>
<circle cx="573.92" cy="340.40" r="1.6"/>
<circle cx="577.04" cy="340.40" r="1.6"/>
<circle cx="580.16" cy="340.40" r="1.6"/>
<circle cx="583.28" cy="340.40" r="1.6"/>
<circle cx="586.40" cy="340.40" r="1.6"/>
<circle cx="589.52" cy="340.40" r="1.6"/>
<circle cx="592.64" cy="340.40" r="1.6"/>
<circle cx="595.76" cy="340.40" r="1.6"/>
<circle cx="598.88" cy="340.40" r="1.6"/>
<circle cx="602.00" cy="340.40" r="1.6"/>
<circle cx="605.12" cy="340.40" r="1.6"/>
<circle cx="608.24" cy="340.40" r="1.6"/>
<circle cx="611.36" cy="340.40" r="1.6"/>
<circle cx="614.48" cy="340.40" r="1.6"/>
<circle cx="617.60" cy="340.40" r="1.6"/>
<circle cx="620.72" cy="340.40" r="1.6"/>
<circle cx="623.84" cy="340.40" r="1.6"/>
<circle cx="626.96" cy="340.40" r="1.6"/>
<circle cx="630.08" cy="340.40" r="1.6"/>
<circle cx="633.20" cy="340.40" r="1.6"/>
<circle cx="636.32" cy="340.40" r="1.6"/>
<circle cx="639.44" cy="340.40" r="1.6"/>
<circle cx="642.56" cy="340.40" r="1.6"/>
<circle cx="645.68" cy="340.40" r="1.6"/>
<circle cx="648.80" cy="340.40" r="1.6"/>
<circle cx="651.92" cy="340.40" r="1.6"/>
<circle cx="655.04" cy="340.40" r="1.6"/>
<circle cx="658.16" cy="340.40" r="1.6"/>
<circle cx="661.28" cy="340.40" r="1.6"/>
<circle cx="664.40" cy="340.40" r="1.6"/>
<circle cx="667.52" cy="340.40" r="1.6"/>
<circle cx="670.64" cy="340.40" r="1.6"/>
<circle cx="673.76" cy="340.40" r="1.6"/>
<circle cx="676.88" cy="340.40" r="1.6"/>
<circle cx="680.00" cy="340.40" r="1.6"/>
</g>
<polyline points="56.00,340.10 59.12,339.85 62.24,339.59 65.36,339.32 68.48,339.05 71.60,338.77 74.72,338.49 77.84,338.21 80.96,337.90 84.08,337.55 87.20,337.15 90.32,336.72 93.44,336.27 96.56,335.77 99.68,335.24 102.80,334.77 105.92,334.38 109.04,334.01 112.16,333.69 115.28,333.44 118.40,333.23 121.52,333.05 124.64,332.97 127.76,332.98 130.88,333.01 134.00,333.04 137.12,333.11 140.24,333.25 143.36,333.43 146.48,333.65 149.60,333.90 152.72,334.22 155.84,334.64 158.96,335.09 162.08,335.56 165.20,336.02 168.32,336.49 171.44,336.97 174.56,337.44 177.68,337.90 180.80,338.34 183.92,338.75 187.04,339.10 190.16,339.37 193.28,339.59 196.40,339.77 199.52,339.93 202.64,340.02 205.76,339.94 208.88,339.77 212.00,339.43 215.12,338.88 218.24,338.05 221.36,337.15 224.48,335.99 227.60,334.64 230.72,332.99 233.84,331.11 236.96,329.05 240.08,326.75 243.20,324.07 246.32,321.15 249.44,318.14 252.56,314.91 255.68,311.37 258.80,307.45 261.92,303.00 265.04,298.03 268.16,292.31 271.28,286.99 274.40,281.09 277.52,275.33 280.64,268.90 283.76,262.44 286.88,255.19 290.00,247.72 293.12,240.13 296.24,232.60 299.36,225.30 302.48,218.39 305.60,211.23 308.72,203.57 311.84,196.36 314.96,189.42 318.08,182.59 321.20,175.82 324.32,169.13 327.44,162.54 330.56,156.08 333.68,149.77 336.80,143.63 339.92,137.58 343.04,131.56 346.16,125.75 349.28,120.36 352.40,115.57 355.52,111.27 358.64,107.19 361.76,103.36 364.88,99.83 368.00,96.61 371.12,93.69 374.24,91.31 377.36,89.29 380.48,87.34 383.60,85.33 386.72,83.44 389.84,81.86 392.96,80.33 396.08,78.62 399.20,76.95 402.32,75.44 405.44,74.05 408.56,72.74 411.68,71.53 414.80,70.44 417.92,69.35 421.04,68.18 424.16,66.98 427.28,65.76 430.40,64.54 433.52,63.35 436.64,62.17 439.76,60.95 442.88,59.66 446.00,58.23 449.12,56.98 452.24,55.87 455.36,54.75 458.48,53.49 461.60,52.27 464.72,51.08 467.84,49.89 470.96,48.69 474.08,47.43 477.20,46.29 480.32,45.20 483.44,44.20 486.56,43.18 489.68,42.06 492.80,41.45 495.92,40.33 499.04,39.35 502.16,38.30 505.28,37.40 508.40,36.50 511.52,35.75 514.64,34.96 517.76,34.11 520.88,33.26 524.00,32.48 527.12,31.83 530.24,31.23 533.36,30.66 536.48,30.10 539.60,29.54 542.72,29.00 545.84,28.48 548.96,27.98 552.08,27.50 555.20,27.03 558.32,26.60 561.44,26.21 564.56,25.85 567.68,25.52 570.80,25.22 573.92,24.94 577.04,24.70 580.16,24.48 583.28,24.25 586.40,23.98 589.52,23.68 592.64,23.37 595.76,23.10 598.88,22.84 602.00,22.59 605.12,22.36 608.24,22.17 611.36,22.02 614.48,21.90 617.60,21.80 620.72,21.71 623.84,21.64 626.96,21.59 630.08,21.54 633.20,21.50 636.32,21.47 639.44,21.46 642.56,21.46 645.68,21.49 648.80,21.55 651.92,21.63 655.04,21.71 658.16,21.80 661.28,21.91 664.40,22.04 667.52,22.18 670.64,22.31 673.76,22.43 676.88,22.55 680.00,22.67" fill="none" stroke="#de7d00" stroke-width="0.75"/>
<g fill="#de7d00">
<circle cx="56.00" cy="340.10" r="1.6"/>
<circle cx="59.12" cy="339.85" r="1.6"/>
<circle cx="62.24" cy="339.59" r="1.6"/>
<circle cx="65.36" cy="339.32" r="1.6"/>
<circle cx="68.48" cy="339.05" r="1.6"/>
<circle cx="71.60" cy="338.77" r="1.6"/>
<circle cx="74.72" cy="338.49" r="1.6"/>
<circle cx="77.84" cy="338.21" r="1.6"/>
<circle cx="80.96" cy="337.90" r="1.6"/>
<circle cx="84.08" cy="337.55" r="1.6"/>
<circle cx="87.20" cy="337.15" r="1.6"/>
<circle cx="90.32" cy="336.72" r="1.6"/>
<circle cx="93.44" cy="336.27" r="1.6"/>
<circle cx="96.56" cy="335.77" r="1.6"/>
<circle cx="99.68" cy="335.24" r="1.6"/>
<circle cx="102.80" cy="334.77" r="1.6"/>
<circle cx="105.92" cy="334.38" r="1.6"/>
<circle cx="109.04" cy="334.01" r="1.6"/>
<circle cx="112.16" cy="333.69" r="1.6"/>
<circle cx="115.28" cy="333.44" r="1.6"/>
<circle cx="118.40" cy="333.23" r="1.6"/>
<circle cx="121.52" cy="333.05" r="1.6"/>
<circle cx="124.64" cy="332.97" r="1.6"/>
<circle cx="127.76" cy="332.98" r="1.6"/>
<circle cx="130.88" cy="333.01" r="1.6"/>
<circle cx="134.00" cy="333.04" r="1.6"/>
<circle cx="137.12" cy="333.11" r="1.6"/>
<circle cx="140.24" cy="333.25" r="1.6"/>
<circle cx="143.36" cy="333.43" r="1.6"/>
<circle cx="146.48" cy="333.65" r="1.6"/>
<circle cx="149.60" cy="333.90" r="1.6"/>
<circle cx="152.72" cy="334.22" r="1.6"/>
<circle cx="155.84" cy="334.64" r="1.6"/>
<circle cx="158.96" cy="335.09" r="1.6"/>
<circle cx="162.08" cy="335.56" r="1.6"/>
<circle cx="165.20" cy="336.02" r="1.6"/>
<circle cx="168.32" cy="336.49" r="1.6"/>
<circle cx="171.44" cy="336.97" r="1.6"/>
<circle cx="174.56" cy="337.44" r="1.6"/>
<circle cx="177.68" cy="337.90" r="1.6"/>
<circle cx="180.80" cy="338.34" r="1.6"/>
<circle cx="183.92" cy="338.75" r="1.6"/>
<circle cx="187.04" cy="339.10" r="1.6"/>
<circle cx="190.16" cy="339.37" r="1.6"/>
<circle cx="193.28" cy="339.59" r="1.6"/>
<circle cx="196.40" cy="339.77" r="1.6"/>
<circle cx="199.52" cy="339.93" r="1.6"/>
<circle cx="202.64" cy="340.02" r="1.6"/>
<circle cx="205.76" cy="339.94" r="1.6"/>
<circle cx="208.88" cy="339.77" r="1.6"/>
<circle cx="212.00" cy="339.43" r="1.6"/>
<circle cx="215.12" cy="338.88" r="1.6"/>
<circle cx="218.24" cy="338.05" r="1.6"/>
<circle cx="221.36" cy="337.15" r="1.6"/>
<circle cx="224.48" cy="335.99" r="1.6"/>
<circle cx="227.60" cy="334.64" r="1.6"/>
<circle cx="230.72" cy="332.99" r="1.6"/>
<circle cx="233.84" cy="331.11" r="1.6"/>
<circle cx="236.96" cy="329.05" r="1.6"/>
<circle cx="240.08" cy="326.75" r="1.6"/>
<circle cx="243.20" cy="324.07" r="1.6"/>
<circle cx="246.32" cy="321.15" r="1.6"/>
<circle cx="249.44" cy="318.14" r="1.6"/>
<circle cx="252.56" cy="314.91" r="1.6"/>
<circle cx="255.68" cy="311.37" r="1.6"/>
<circle cx="258.80" cy="307.45" r="1.6"/>
<circle cx="261.92" cy="303.00" r="1.6"/>
<circle cx="265.04" cy="298.03" r="1.6"/>
<circle cx="268.16" cy="292.31" r="1.6"/>
<circle cx="271.28" cy="286.99" r="1.6"/>
<circle cx="274.40" cy="281.09" r="1.6"/>
<circle cx="277.52" cy="275.33" r="1.6"/>
<circle cx="280.64" cy="268.90" r="1.6"/>
<circle cx="283.76" cy="262.44" r="1.6"/>
<circle cx="286.88" cy="255.19" r="1.6"/>
<circle cx="290.00" cy="247.72" r="1.6"/>
<circle cx="293.12" cy="240.13" r="1.6"/>
<circle cx="296.24" cy="232.60" r="1.6"/>
<circle cx="299.36" cy="225.30" r="1.6"/>
<circle cx="302.48" cy="218.39" r="1.6"/>
<circle cx="305.60" cy="211.23" r="1.6"/>
<circle cx="308.72" cy="203.57" r="1.6"/>
<circle cx="311.84" cy="196.36" r="1.6"/>
<circle cx="314.96" cy="189.42" r="1.6"/>
<circle cx="318.08" cy="182.59" r="1.6"/>
<circle cx="321.20" cy="175.82" r="1.6"/>
<circle cx="324.32" cy="169.13" r="1.6"/>
<circle cx="327.44" cy="162.54" r="1.6"/>
<circle cx="330.56" cy="156.08" r="1.6"/>
<circle cx="333.68" cy="149.77" r="1.6"/>
<circle cx="336.80" cy="143.63" r="1.6"/>
<circle cx="339.92" cy="137.58" r="1.6"/>
<circle cx="343.04" cy="131.56" r="1.6"/>
<circle cx="346.16" cy="125.75" r="1.6"/>
<circle cx="349.28" cy="120.36" r="1.6"/>
<circle cx="352.40" cy="115.57" r="1.6"/>
<circle cx="355.52" cy="111.27" r="1.6"/>
<circle cx="358.64" cy="107.19" r="1.6"/>
<circle cx="361.76" cy="103.36" r="1.6"/>
<circle cx="364.88" cy="99.83" r="1.6"/>
<circle cx="368.00" cy="96.61" r="1.6"/>
<circle cx="371.12" cy="93.69" r="1.6"/>
<circle cx="374.24" cy="91.31" r="1.6"/>
<circle cx="377.36" cy="89.29" r="1.6"/>
<circle cx="380.48" cy="87.34" r="1.6"/>
<circle cx="383.60" cy="85.33" r="1.6"/>
<circle cx="386.72" cy="83.44" r="1.6"/>
<circle cx="389.84" cy="81.86" r="1.6"/>
<circle cx="392.96" cy="80.33" r="1.6"/>
<circle cx="396.08" cy="78.62" r="1.6"/>
<circle cx="399.20" cy="76.95" r="1.6"/>
<circle cx="402.32" cy="75.44" r="1.6"/>
<circle cx="405.44" cy="74.05" r="1.6"/>
<circle cx="408.56" cy="72.74" r="1.6"/>
<circle cx="411.68" cy="71.53" r="1.6"/>
<circle cx="414.80" cy="70.44" r="1.6"/>
<circle cx="417.92" cy="69.35" r="1.6"/>
<circle cx="421.04" cy="68.18" r="1.6"/>
<circle cx="424.16" cy="66.98" r="1.6"/>
<circle cx="427.28" cy="65.76" r="1.6"/>
<circle cx="430.40" cy="64.54" r="1.6"/>
<circle cx="433.52" cy="63.35" r="1.6"/>
<circle cx="436.64" cy="62.17" r="1.6"/>
<circle cx="439.76" cy="60.95" r="1.6"/>
<circle cx="442.88" cy="59.66" r="1.6"/>
<circle cx="446.00" cy="58.23" r="1.6"/>
<circle cx="449.12" cy="56.98" r="1.6"/>
<circle cx="452.24" cy="55.87" r="1.6"/>
<circle cx="455.36" cy="54.75" r="1.6"/>
<circle cx="458.48" cy="53.49" r="1.6"/>
<circle cx="461.60" cy="52.27" r="1.6"/>
<circle cx="464.72" cy="51.08" r="1.6"/>
<circle cx="467.84" cy="49.89" r="1.6"/>
<circle cx="470.96" cy="48.69" r="1.6"/>
<circle cx="474.08" cy="47.43" r="1.6"/>
<circle cx="477.20" cy="46.29" r="1.6"/>
<circle cx="480.32" cy="45.20" r="1.6"/>
<circle cx="483.44" cy="44.20" r="1.6"/>
<circle cx="486.56" cy="43.18" r="1.6"/>
<circle cx="489.68" cy="42.06" r="1.6"/>
<circle cx="492.80" cy="41.45" r="1.6"/>
<circle cx="495.92" cy="40.33" r="1.6"/>
<circle cx="499.04" cy="39.35" r="1.6"/>
<circle cx="502.16" cy="38.30" r="1.6"/>
<circle cx="505.28" cy="37.40" r="1.6"/>
<circle cx="508.40" cy="36.50" r="1.6"/>
<circle cx="511.52" cy="35.75" r="1.6"/>
<circle cx="514.64" cy="34.96" r="1.6"/>
<circle cx="517.76" cy="34.11" r="1.6"/>
<circle cx="520.88" cy="33.26" r="1.6"/>
<circle cx="524.00" cy="32.48" r="1.6"/>
<circle cx="527.12" cy="31.83" r="1.6"/>
<circle cx="530.24" cy="31.23" r="1.6"/>
<circle cx="533.36" cy="30.66" r="1.6"/>
<circle cx="536.48" cy="30.10" r="1.6"/>
<circle cx="539.60" cy="29.54" r="1.6"/>
<circle cx="542.72" cy="29.00" r="1.6"/>
<circle cx="545.84" cy="28.48" r="1.6"/>
<circle cx="548.96" cy="27.98" r="1.6"/>
<circle cx="552.08" cy="27.50" r="1.6"/>
<circle cx="555.20" cy="27.03" r="1.6"/>
<circle cx="558.32" cy="26.60" r="1.6"/>
<circle cx="561.44" cy="26.21" r="1.6"/>
<circle cx="564.56" cy="25.85" r="1.6"/>
<circle cx="567.68" cy="25.52" r="1.6"/>
<circle cx="570.80" cy="25.22" r="1.6"/>
<circle cx="573.92" cy="24.94" r="1.6"/>
<circle cx="577.04" cy="24.70" r="1.6"/>
<circle cx="580.16" cy="24.48" r="1.6"/>
<circle cx="583.28" cy="24.25" r="1.6"/>
<circle cx="586.40" cy="23.98" r="1.6"/>
<circle cx="589.52" cy="23.68" r="1.6"/>
<circle cx="592.64" cy="23.37" r="1.6"/>
<circle cx="595.76" cy="23.10" r="1.6"/>
<circle cx="598.88" cy="22.84" r="1.6"/>
<circle cx="602.00" cy="22.59" r="1.6"/>
<circle cx="605.12" cy="22.36" r="1.6"/>
<circle cx="608.24" cy="22.17" r="1.6"/>
<circle cx="611.36" cy="22.02" r="1.6"/>
<circle cx="614.48" cy="21.90" r="1.6"/>
<circle cx="617.60" cy="21.80" r="1.6"/>
<circle cx="620.72" cy="21.71" r="1.6"/>
<circle cx="623.84" cy="21.64" r="1.6"/>
<circle cx="626.96" cy="21.59" r="1.6"/>
<circle cx="630.08" cy="21.54" r="1.6"/>
<circle cx="633.20" cy="21.50" r="1.6"/>
<circle cx="636.32" cy="21.47" r="1.6"/>
<circle cx="639.44" cy="21.46" r="1.6"/>
<circle cx="642.56" cy="21.46" r="1.6"/>
<circle cx="645.68" cy="21.49" r="1.6"/>
<circle cx="648.80" cy="21.55" r="1.6"/>
<circle cx="651.92" cy="21.63" r="1.6"/>
<circle cx="655.04" cy="21.71" r="1.6"/>
<circle cx="658.16" cy="21.80" r="1.6"/>
<circle cx="661.28" cy="21.91" r="1.6"/>
<circle cx="664.40" cy="22.04" r="1.6"/>
<circle cx="667.52" cy="22.18" r="1.6"/>
<circle cx="670.64" cy="22.31" r="1.6"/>
<circle cx="673.76" cy="22.43" r="1.6"/>
<circle cx="676.88" cy="22.55" r="1.6"/>
<circle cx="680.00" cy="22.67" r="1.6"/>
</g>
<polyline points="56.00,339.10 59.12,338.81 62.24,338.52 65.36,338.22 68.48,337.91 71.60,337.60 74.72,337.27 77.84,336.91 80.96,336.55 84.08,336.22 87.20,335.94 90.32,335.70 93.44,335.48 96.56,335.28 99.68,335.10 102.80,334.94 105.92,334.77 109.04,334.61 112.16,334.49 115.28,334.44 118.40,334.45 121.52,334.48 124.64,334.52 127.76,334.59 130.88,334.69 134.00,334.83 137.12,334.99 140.24,335.23 143.36,335.53 146.48,335.87 149.60,336.21 152.72,336.53 155.84,336.86 158.96,337.20 162.08,337.53 165.20,337.82 168.32,338.08 171.44,338.33 174.56,338.56 177.68,338.78 180.80,338.98 183.92,339.17 187.04,339.35 190.16,339.56 193.28,339.68 196.40,339.65 199.52,339.43 202.64,339.00 205.76,338.30 208.88,337.72 212.00,336.89 215.12,335.80 218.24,334.51 221.36,333.22 224.48,331.63 227.60,329.83 230.72,328.06 233.84,326.11 236.96,323.67 240.08,320.90 243.20,317.94 246.32,314.69 249.44,311.07 252.56,307.20 255.68,303.30 258.80,299.11 261.92,294.20 265.04,289.60 268.16,284.21 271.28,278.99 274.40,273.40 277.52,267.41 280.64,261.45 283.76,255.19 286.88,248.65 290.00,241.93 293.12,235.15 296.24,228.38 299.36,221.72 302.48,215.23 305.60,208.40 308.72,201.46 311.84,194.45 314.96,187.75 318.08,181.54 321.20,175.48 324.32,169.60 327.44,163.94 330.56,158.53 333.68,153.42 336.80,148.63 339.92,144.06 343.04,139.68 346.16,135.58 349.28,131.87 352.40,128.65 355.52,125.77 358.64,123.08 361.76,120.60 364.88,118.38 368.00,116.44 371.12,114.83 374.24,113.66 377.36,112.79 380.48,111.90 383.60,111.20 386.72,110.60 389.84,110.20 392.96,110.06 396.08,109.96 399.20,109.96 402.32,110.06 405.44,110.21 408.56,110.40 411.68,110.70 414.80,110.90 417.92,111.30 421.04,111.66 424.16,112.09 427.28,112.55 430.40,113.04 433.52,113.56 436.64,114.09 439.76,114.64 442.88,115.21 446.00,115.78 449.12,116.36 452.24,116.94 455.36,117.52 458.48,118.09 461.60,118.66 464.72,119.22 467.84,119.78 470.96,120.36 474.08,120.94 477.20,121.52 480.32,122.11 483.44,122.70 486.56,123.29 489.68,123.88 492.80,124.47 495.92,125.07 499.04,125.66 502.16,126.25 505.28,126.85 508.40,127.43 511.52,128.02 514.64,128.60 517.76,129.17 520.88,129.75 524.00,130.31 527.12,130.87 530.24,131.43 533.36,131.99 536.48,132.55 539.60,133.11 542.72,133.67 545.84,134.22 548.96,134.78 552.08,135.33 555.20,135.88 558.32,136.42 561.44,136.96 564.56,137.50 567.68,138.04 570.80,138.57 573.92,139.09 577.04,139.61 580.16,140.12 583.28,140.63 586.40,141.13 589.52,141.63 592.64,142.12 595.76,142.60 598.88,143.07 602.00,143.54 605.12,144.01 608.24,144.47 611.36,144.93 614.48,145.39 617.60,145.84 620.72,146.30 623.84,146.75 626.96,147.20 630.08,147.66 633.20,148.11 636.32,148.57 639.44,149.02 642.56,149.47 645.68,149.89 648.80,150.31 651.92,150.70 655.04,151.07 658.16,151.42 661.28,151.75 664.40,152.06 667.52,152.37 670.64,152.72 673.76,153.12 676.88,153.54 680.00,154.00" fill="none" stroke="#008000" stroke-width="0.75"/>
<g fill="#008000">
<circle cx="56.00" cy="339.10" r="1.6"/>
<circle cx="59.12" cy="338.81" r="1.6"/>
<circle cx="62.24" cy="338.52" r="1.6"/>
<circle cx="65.36" cy="338.22" r="1.6"/>
<circle cx="68.48" cy="337.91" r="1.6"/>
<circle cx="71.60" cy="337.60" r="1.6"/>
<circle cx="74.72" cy="337.27" r="1.6"/>
<circle cx="77.84" cy="336.91" r="1.6"/>
<circle cx="80.96" cy="336.55" r="1.6"/>
<circle cx="84.08" cy="336.22" r="1.6"/>
<circle cx="87.20" cy="335.94" r="1.6"/>
<circle cx="90.32" cy="335.70" r="1.6"/>
<circle cx="93.44" cy="335.48" r="1.6"/>
<circle cx="96.56" cy="335.28" r="1.6"/>
<circle cx="99.68" cy="335.10" r="1.6"/>
<circle cx="102.80" cy="334.94" r="1.6"/>
<circle cx="105.92" cy="334.77" r="1.6"/>
<circle cx="109.04" cy="334.61" r="1.6"/>
<circle cx="112.16" cy="334.49" r="1.6"/>
<circle cx="115.28" cy="334.44" r="1.6"/>
<circle cx="118.40" cy="334.45" r="1.6"/>
<circle cx="121.52" cy="334.48" r="1.6"/>
<circle cx="124.64" cy="334.52" r="1.6"/>
<circle cx="127.76" cy="334.59" r="1.6"/>
<circle cx="130.88" cy="334.69" r="1.6"/>
<circle cx="134.00" cy="334.83" r="1.6"/>
<circle cx="137.12" cy="334.99" r="1.6"/>
<circle cx="140.24" cy="335.23" r="1.6"/>
<circle cx="143.36" cy="335.53" r="1.6"/>
<circle cx="146.48" cy="335.87" r="1.6"/>
<circle cx="149.60" cy="336.21" r="1.6"/>
<circle cx="152.72" cy="336.53" r="1.6"/>
<circle cx="155.84" cy="336.86" r="1.6"/>
<circle cx="158.96" cy="337.20" r="1.6"/>
<circle cx="162.08" cy="337.53" r="1.6"/>
<circle cx="165.20" cy="337.82" r="1.6"/>
<circle cx="168.32" cy="338.08" r="1.6"/>
<circle cx="171.44" cy="338.33" r="1.6"/>
<circle cx="174.56" cy="338.56" r="1.6"/>
<circle cx="177.68" cy="338.78" r="1.6"/>
<circle cx="180.80" cy="338.98" r="1.6"/>
<circle cx="183.92" cy="339.17" r="1.6"/>
<circle cx="187.04" cy="339.35" r="1.6"/>
<circle cx="190.16" cy="339.56" r="1.6"/>
<circle cx="193.28" cy="339.68" r="1.6"/>
<circle cx="196.40" cy="339.65" r="1.6"/>
<circle cx="199.52" cy="339.43" r="1.6"/>
<circle cx="202.64" cy="339.00" r="1.6"/>
<circle cx="205.76" cy="338.30" r="1.6"/>
<circle cx="208.88" cy="337.72" r="1.6"/>
<circle cx="212.00" cy="336.89" r="1.6"/>
<circle cx="215.12" cy="335.80" r="1.6"/>
<circle cx="218.24" cy="334.51" r="1.6"/>
<circle cx="221.36" cy="333.22" r="1.6"/>
<circle cx="224.48" cy="331.63" r="1.6"/>
<circle cx="227.60" cy="329.83" r="1.6"/>
<circle cx="230.72" cy="328.06" r="1.6"/>
<circle cx="233.84" cy="326.11" r="1.6"/>
<circle cx="236.96" cy="323.67" r="1.6"/>
<circle cx="240.08" cy="320.90" r="1.6"/>
<circle cx="243.20" cy="317.94" r="1.6"/>
<circle cx="246.32" cy="314.69" r="1.6"/>
<circle cx="249.44" cy="311.07" r="1.6"/>
<circle cx="252.56" cy="307.20" r="1.6"/>
<circle cx="255.68" cy="303.30" r="1.6"/>
<circle cx="258.80" cy="299.11" r="1.6"/>
<circle cx="261.92" cy="294.20" r="1.6"/>
<circle cx="265.04" cy="289.60" r="1.6"/>
<circle cx="268.16" cy="284.21" r="1.6"/>
<circle cx="271.28" cy="278.99" r="1.6"/>
<circle cx="274.40" cy="273.40" r="1.6"/>
<circle cx="277.52" cy="267.41" r="1.6"/>
<circle cx="280.64" cy="261.45" r="1.6"/>
<circle cx="283.76" cy="255.19" r="1.6"/>
<circle cx="286.88" cy="248.65" r="1.6"/>
<circle cx="290.00" cy="241.93" r="1.6"/>
<circle cx="293.12" cy="235.15" r="1.6"/>
<circle cx="296.24" cy="228.38" r="1.6"/>
<circle cx="299.36" cy="221.72" r="1.6"/>
<circle cx="302.48" cy="215.23" r="1.6"/>
<circle cx="305.60" cy="208.40" r="1.6"/>
<circle cx="308.72" cy="201.46" r="1.6"/>
<circle cx="311.84" cy="194.45" r="1.6"/>
<circle cx="314.96" cy="187.75" r="1.6"/>
<circle cx="318.08" cy="181.54" r="1.6"/>
<circle cx="321.20" cy="175.48" r="1.6"/>
<circle cx="324.32" cy="169.60" r="1.6"/>
<circle cx="327.44" cy="163.94" r="1.6"/>
<circle cx="330.56" cy="158.53" r="1.6"/>
<circle cx="333.68" cy="153.42" r="1.6"/>
<circle cx="336.80" cy="148.63" r="1.6"/>
<circle cx="339.92" cy="144.06" r="1.6"/>
<circle cx="343.04" cy="139.68" r="1.6"/>
<circle cx="346.16" cy="135.58" r="1.6"/>
<circle cx="349.28" cy="131.87" r="1.6"/>
<circle cx="352.40" cy="128.65" r="1.6"/>
<circle cx="355.52" cy="125.77" r="1.6"/>
<circle cx="358.64" cy="123.08" r="1.6"/>
<circle cx="361.76" cy="120.60" r="1.6"/>
<circle cx="364.88" cy="118.38" r="1.6"/>
<circle cx="368.00" cy="116.44" r="1.6"/>
<circle cx="371.12" cy="114.83" r="1.6"/>
<circle cx="374.24" cy="113.66" r="1.6"/>
<circle cx="377.36" cy="112.79" r="1.6"/>
<circle cx="380.48" cy="111.90" r="1.6"/>
<circle cx="383.60" cy="111.20" r="1.6"/>
<circle cx="386.72" cy="110.60" r="1.6"/>
<circle cx="389.84" cy="110.20" r="1.6"/>
<circle cx="392.96" cy="110.06" r="1.6"/>
<circle cx="396.08" cy="109.96" r="1.6"/>
<circle cx="399.20" cy="109.96" r="1.6"/>
<circle cx="402.32" cy="110.06" r="1.6"/>
<circle cx="405.44" cy="110.21" r="1.6"/>
<circle cx="408.56" cy="110.40" r="1.6"/>
<circle cx="411.68" cy="110.70" r="1.6"/>
<circle cx="414.80" cy="110.90" r="1.6"/>
<circle cx="417.92" cy="111.30" r="1.6"/>
<circle cx="421.04" cy="111.66" r="1.6"/>
<circle cx="424.16" cy="112.09" r="1.6"/>
<circle cx="427.28" cy="112.55" r="1.6"/>
<circle cx="430.40" cy="113.04" r="1.6"/>
<circle cx="433.52" cy="113.56" r="1.6"/>
<circle cx="436.64" cy="114.09" r="1.6"/>
<circle cx="439.76" cy="114.64" r="1.6"/>
<circle cx="442.88" cy="115.21" r="1.6"/>
<circle cx="446.00" cy="115.78" r="1.6"/>
<circle cx="449.12" cy="116.36" r="1.6"/>
<circle cx="452.24" cy="116.94" r="1.6"/>
<circle cx="455.36" cy="117.52" r="1.6"/>
<circle cx="458.48" cy="118.09" r="1.6"/>
<circle cx="461.60" cy="118.66" r="1.6"/>
<circle cx="464.72" cy="119.22" r="1.6"/>
<circle cx="467.84" cy="119.78" r="1.6"/>
<circle cx="470.96" cy="120.36" r="1.6"/>
<circle cx="474.08" cy="120.94" r="1.6"/>
<circle cx="477.20" cy="121.52" r="1.6"/>
<circle cx="480.32" cy="122.11" r="1.6"/>
<circle cx="483.44" cy="122.70" r="1.6"/>
<circle cx="486.56" cy="123.29" r="1.6"/>
<circle cx="489.68" cy="123.88" r="1.6"/>
<circle cx="492.80" cy="124.47" r="1.6"/>
<circle cx="495.92" cy="125.07" r="1.6"/>
<circle cx="499.04" cy="125.66" r="1.6"/>
<circle cx="502.16" cy="126.25" r="1.6"/>
<circle cx="505.28" cy="126.85" r="1.6"/>
<circle cx="508.40" cy="127.43" r="1.6"/>
<circle cx="511.52" cy="128.02" r="1.6"/>
<circle cx="514.64" cy="128.60" r="1.6"/>
<circle cx="517.76" cy="129.17" r="1.6"/>
<circle cx="520.88" cy="129.75" r="1.6"/>
<circle cx="524.00" cy="130.31" r="1.6"/>
<circle cx="527.12" cy="130.87" r="1.6"/>
<circle cx="530.24" cy="131.43" r="1.6"/>
<circle cx="533.36" cy="131.99" r="1.6"/>
<circle cx="536.48" cy="132.55" r="1.6"/>
<circle cx="539.60" cy="133.11" r="1.6"/>
<circle cx="542.72" cy="133.67" r="1.6"/>
<circle cx="545.84" cy="134.22" r="1.6"/>
<circle cx="548.96" cy="134.78" r="1.6"/>
<circle cx="552.08" cy="135.33" r="1.6"/>
<circle cx="555.20" cy="135.88" r="1.6"/>
<circle cx="558.32" cy="136.42" r="1.6"/>
<circle cx="561.44" cy="136.96" r="1.6"/>
<circle cx="564.56" cy="137.50" r="1.6"/>
<circle cx="567.68" cy="138.04" r="1.6"/>
<circle cx="570.80" cy="138.57" r="1.6"/>
<circle cx="573.92" cy="139.09" r="1.6"/>
<circle cx="577.04" cy="139.61" r="1.6"/>
<circle cx="580.16" cy="140.12" r="1.6"/>
<circle cx="583.28" cy="140.63" r="1.6"/>
<circle cx="586.40" cy="141.13" r="1.6"/>
<circle cx="589.52" cy="141.63" r="1.6"/>
<circle cx="592.64" cy="142.12" r="1.6"/>
<circle cx="595.76" cy="142.60" r="1.6"/>
<circle cx="598.88" cy="143.07" r="1.6"/>
<circle cx="602.00" cy="143.54" r="1.6"/>
<circle cx="605.12" cy="144.01" r="1.6"/>
<circle cx="608.24" cy="144.47" r="1.6"/>
<circle cx="611.36" cy="144.93" r="1.6"/>
<circle cx="614.48" cy="145.39" r="1.6"/>
<circle cx="617.60" cy="145.84" r="1.6"/>
<circle cx="620.72" cy="146.30" r="1.6"/>
<circle cx="623.84" cy="146.75" r="1.6"/>
<circle cx="626.96" cy="147.20" r="1.6"/>
<circle cx="630.08" cy="147.66" r="1.6"/>
<circle cx="633.20" cy="148.11" r="1.6"/>
<circle cx="636.32" cy="148.57" r="1.6"/>
<circle cx="639.44" cy="149.02" r="1.6"/>
<circle cx="642.56" cy="149.47" r="1.6"/>
<circle cx="645.68" cy="149.89" r="1.6"/>
<circle cx="648.80" cy="150.31" r="1.6"/>
<circle cx="651.92" cy="150.70" r="1.6"/>
<circle cx="655.04" cy="151.07" r="1.6"/>
<circle cx="658.16" cy="151.42" r="1.6"/>
<circle cx="661.28" cy="151.75" r="1.6"/>
<circle cx="664.40" cy="152.06" r="1.6"/>
<circle cx="667.52" cy="152.37" r="1.6"/>
<circle cx="670.64" cy="152.72" r="1.6"/>
<circle cx="673.76" cy="153.12" r="1.6"/>
<circle cx="676.88" cy="153.54" r="1.6"/>
<circle cx="680.00" cy="154.00" r="1.6"/>
</g>
<g style="font-family:'Liberation Serif',serif" font-size="21.7" fill="#000" stroke="#000" stroke-width="0.3">
<text x="56.3" y="380.5" text-anchor="middle">0</text>
<text x="212.3" y="380.5" text-anchor="middle">0.5</text>
<text x="368.3" y="380.5" text-anchor="middle">1</text>
<text x="524.3" y="380.5" text-anchor="middle">1.5</text>
<text x="680.3" y="380.5" text-anchor="middle">2</text>
<text x="52.4" y="348.49" text-anchor="end">0</text>
<text x="52.4" y="265.01" text-anchor="end">0.5</text>
<text x="52.4" y="181.53" text-anchor="end">1</text>
<text x="52.4" y="98.05" text-anchor="end">1.5</text>
<text x="52.4" y="14.57" text-anchor="end">2</text>
<text transform="translate(368.4,401.2) scale(1.3,1)" text-anchor="middle" font-size="21.7" stroke-width="0.1">α</text>
<text transform="translate(14.9,182.3) rotate(-90)" text-anchor="middle">MSE</text>
</g>
<rect x="421.4" y="64.5" width="211.10000000000002" height="172.4" fill="#fff" stroke="#000" stroke-width="1.25"/>
<g style="font-family:'Liberation Serif',serif" font-size="21.7" fill="#000" stroke="#000" stroke-width="0.3">
<line x1="428.7" y1="81.0" x2="469.3" y2="81.0" stroke="#000000" stroke-width="0.9"/>
<circle cx="449.1" cy="81.0" r="1.55" fill="#000000" stroke="none"/>
<text x="473.4" y="88.40">OP<tspan dx="0.7" dy="-0.7" stroke-width="0.75">–</tspan><tspan dx="0.7" dy="0.7">FLP</tspan></text>
<line x1="428.7" y1="108.95" x2="469.3" y2="108.95" stroke="#ff00ff" stroke-width="0.9" stroke-dasharray="8.2 8"/>
<circle cx="449.1" cy="108.95" r="1.55" fill="#ff00ff" stroke="none"/>
<text x="473.4" y="116.35">CLP</text>
<line x1="428.7" y1="136.9" x2="469.3" y2="136.9" stroke="#ff0000" stroke-width="0.9"/>
<circle cx="449.1" cy="136.9" r="1.55" fill="#ff0000" stroke="none"/>
<text x="473.4" y="144.30">First Order LP</text>
<line x1="428.7" y1="164.85" x2="469.3" y2="164.85" stroke="#0000ff" stroke-width="0.9" stroke-dasharray="8.2 8"/>
<circle cx="449.1" cy="164.85" r="1.55" fill="#0000ff" stroke="none"/>
<text x="473.4" y="172.25">Second Order LP</text>
<line x1="428.7" y1="192.8" x2="469.3" y2="192.8" stroke="#de7d00" stroke-width="0.9"/>
<circle cx="449.1" cy="192.8" r="1.55" fill="#de7d00" stroke="none"/>
<text x="473.4" y="200.20">TP<tspan dx="0.7" dy="-0.7" stroke-width="0.75">–</tspan><tspan dx="0.7" dy="0.7">FLP</tspan></text>
<line x1="428.7" y1="220.75" x2="469.3" y2="220.75" stroke="#008000" stroke-width="0.9"/>
<circle cx="449.1" cy="220.75" r="1.55" fill="#008000" stroke="none"/>
<text x="473.4" y="228.15">FCLP</text>
</g>
<rect x="126.2" y="51.9" width="245.8" height="132.0" fill="#fff"/>
<g fill="none">
<line x1="171.5" y1="183" x2="171.5" y2="51.9" stroke="#666" stroke-width="1" stroke-dasharray="1 5.07"/>
<line x1="220.5" y1="183" x2="220.5" y2="51.9" stroke="#666" stroke-width="1" stroke-dasharray="1 5.07"/>
<line x1="269.5" y1="183" x2="269.5" y2="51.9" stroke="#666" stroke-width="1" stroke-dasharray="1 5.07"/>
<line x1="319.5" y1="183" x2="319.5" y2="51.9" stroke="#666" stroke-width="1" stroke-dasharray="1 5.07"/>
<line x1="368.5" y1="183" x2="368.5" y2="51.9" stroke="#666" stroke-width="1" stroke-dasharray="1 5.07"/>
<line x1="126" y1="132.5" x2="372.0" y2="132.5" stroke="#666" stroke-width="1" stroke-dasharray="1 5.07"/>
<line x1="126" y1="83.5" x2="372.0" y2="83.5" stroke="#666" stroke-width="1" stroke-dasharray="1 5.07"/>
</g>
<rect x="126.2" y="51.9" width="245.8" height="132.0" fill="none" stroke="#2e2e2e" stroke-width="1.6"/>
<g stroke="#333" stroke-width="1">
<line x1="171.40" y1="183.9" x2="171.40" y2="181.4"/>
<line x1="171.40" y1="51.9" x2="171.40" y2="54.4"/>
<line x1="220.60" y1="183.9" x2="220.60" y2="181.4"/>
<line x1="220.60" y1="51.9" x2="220.60" y2="54.4"/>
<line x1="269.80" y1="183.9" x2="269.80" y2="181.4"/>
<line x1="269.80" y1="51.9" x2="269.80" y2="54.4"/>
<line x1="319.00" y1="183.9" x2="319.00" y2="181.4"/>
<line x1="319.00" y1="51.9" x2="319.00" y2="54.4"/>
<line x1="368.20" y1="183.9" x2="368.20" y2="181.4"/>
<line x1="368.20" y1="51.9" x2="368.20" y2="54.4"/>
<line x1="126.2" y1="132.40" x2="128.7" y2="132.40"/>
<line x1="372.0" y1="132.40" x2="369.5" y2="132.40"/>
<line x1="126.2" y1="83.20" x2="128.7" y2="83.20"/>
<line x1="372.0" y1="83.20" x2="369.5" y2="83.20"/>
</g>
<polyline points="122.20,124.67 132.04,125.11 141.88,125.41 151.72,125.66 161.56,125.92 171.40,126.25 181.24,126.70 191.08,127.24 200.92,127.84 210.76,128.46 220.60,129.05 230.44,129.65 240.28,130.24 250.12,130.88 259.96,131.52 269.80,131.91 279.64,132.07 289.48,132.21 299.32,132.31 309.16,132.38 319.00,132.40 328.84,132.40 338.68,132.40 348.52,132.40 358.36,132.40 368.20,132.40 378.04,132.36" fill="none" stroke="#000000" stroke-width="0.8" clip-path="url(#ci)"/>
<g fill="#000000">
<circle cx="132.04" cy="125.11" r="1.55"/>
<circle cx="141.88" cy="125.41" r="1.55"/>
<circle cx="151.72" cy="125.66" r="1.55"/>
<circle cx="161.56" cy="125.92" r="1.55"/>
<circle cx="171.40" cy="126.25" r="1.55"/>
<circle cx="181.24" cy="126.70" r="1.55"/>
<circle cx="191.08" cy="127.24" r="1.55"/>
<circle cx="200.92" cy="127.84" r="1.55"/>
<circle cx="210.76" cy="128.46" r="1.55"/>
<circle cx="220.60" cy="129.05" r="1.55"/>
<circle cx="230.44" cy="129.65" r="1.55"/>
<circle cx="240.28" cy="130.24" r="1.55"/>
<circle cx="250.12" cy="130.88" r="1.55"/>
<circle cx="259.96" cy="131.52" r="1.55"/>
<circle cx="269.80" cy="131.91" r="1.55"/>
<circle cx="279.64" cy="132.07" r="1.55"/>
<circle cx="289.48" cy="132.21" r="1.55"/>
<circle cx="299.32" cy="132.31" r="1.55"/>
<circle cx="309.16" cy="132.38" r="1.55"/>
<circle cx="319.00" cy="132.40" r="1.55"/>
<circle cx="328.84" cy="132.40" r="1.55"/>
<circle cx="338.68" cy="132.40" r="1.55"/>
<circle cx="348.52" cy="132.40" r="1.55"/>
<circle cx="358.36" cy="132.40" r="1.55"/>
<circle cx="368.20" cy="132.40" r="1.55"/>
</g>
<line x1="125.7" y1="130.43" x2="372.0" y2="130.43" stroke="#ff00ff" stroke-width="0.8" stroke-dasharray="8 8.5"/>
<g fill="#ff00ff">
<circle cx="132.04" cy="130.43" r="1.55"/>
<circle cx="141.88" cy="130.43" r="1.55"/>
<circle cx="151.72" cy="130.43" r="1.55"/>
<circle cx="161.56" cy="130.43" r="1.55"/>
<circle cx="171.40" cy="130.43" r="1.55"/>
<circle cx="181.24" cy="130.43" r="1.55"/>
<circle cx="191.08" cy="130.43" r="1.55"/>
<circle cx="200.92" cy="130.43" r="1.55"/>
<circle cx="210.76" cy="130.43" r="1.55"/>
<circle cx="220.60" cy="130.43" r="1.55"/>
<circle cx="230.44" cy="130.43" r="1.55"/>
<circle cx="240.28" cy="130.43" r="1.55"/>
<circle cx="250.12" cy="130.43" r="1.55"/>
<circle cx="259.96" cy="130.43" r="1.55"/>
<circle cx="269.80" cy="130.43" r="1.55"/>
<circle cx="279.64" cy="130.43" r="1.55"/>
<circle cx="289.48" cy="130.43" r="1.55"/>
<circle cx="299.32" cy="130.43" r="1.55"/>
<circle cx="309.16" cy="130.43" r="1.55"/>
<circle cx="319.00" cy="130.43" r="1.55"/>
<circle cx="328.84" cy="130.43" r="1.55"/>
<circle cx="338.68" cy="130.43" r="1.55"/>
<circle cx="348.52" cy="130.43" r="1.55"/>
<circle cx="358.36" cy="130.43" r="1.55"/>
<circle cx="368.20" cy="130.43" r="1.55"/>
</g>
<polyline points="122.20,110.56 132.04,110.56 141.88,110.56 151.72,110.56 161.56,110.56 171.40,110.56 181.24,110.56 191.08,110.56 200.92,110.56 210.76,110.56 220.60,110.56 230.44,110.56 240.28,110.56 250.12,110.56 259.96,110.56 269.80,110.56 279.64,110.56 289.48,110.56 299.32,110.56 309.16,110.56 319.00,110.56 328.84,110.56 338.68,110.56 348.52,110.56 358.36,110.56 368.20,110.56 378.04,110.56" fill="none" stroke="#ff0000" stroke-width="0.8" clip-path="url(#ci)"/>
<g fill="#ff0000">
<circle cx="132.04" cy="110.56" r="1.55"/>
<circle cx="141.88" cy="110.56" r="1.55"/>
<circle cx="151.72" cy="110.56" r="1.55"/>
<circle cx="161.56" cy="110.56" r="1.55"/>
<circle cx="171.40" cy="110.56" r="1.55"/>
<circle cx="181.24" cy="110.56" r="1.55"/>
<circle cx="191.08" cy="110.56" r="1.55"/>
<circle cx="200.92" cy="110.56" r="1.55"/>
<circle cx="210.76" cy="110.56" r="1.55"/>
<circle cx="220.60" cy="110.56" r="1.55"/>
<circle cx="230.44" cy="110.56" r="1.55"/>
<circle cx="240.28" cy="110.56" r="1.55"/>
<circle cx="250.12" cy="110.56" r="1.55"/>
<circle cx="259.96" cy="110.56" r="1.55"/>
<circle cx="269.80" cy="110.56" r="1.55"/>
<circle cx="279.64" cy="110.56" r="1.55"/>
<circle cx="289.48" cy="110.56" r="1.55"/>
<circle cx="299.32" cy="110.56" r="1.55"/>
<circle cx="309.16" cy="110.56" r="1.55"/>
<circle cx="319.00" cy="110.56" r="1.55"/>
<circle cx="328.84" cy="110.56" r="1.55"/>
<circle cx="338.68" cy="110.56" r="1.55"/>
<circle cx="348.52" cy="110.56" r="1.55"/>
<circle cx="358.36" cy="110.56" r="1.55"/>
<circle cx="368.20" cy="110.56" r="1.55"/>
</g>
<line x1="125.7" y1="132.40" x2="372.0" y2="132.40" stroke="#0000ff" stroke-width="0.8" stroke-dasharray="8 8.5"/>
<g fill="#0000ff">
<circle cx="132.04" cy="132.40" r="1.55"/>
<circle cx="141.88" cy="132.40" r="1.55"/>
<circle cx="151.72" cy="132.40" r="1.55"/>
<circle cx="161.56" cy="132.40" r="1.55"/>
<circle cx="171.40" cy="132.40" r="1.55"/>
<circle cx="181.24" cy="132.40" r="1.55"/>
<circle cx="191.08" cy="132.40" r="1.55"/>
<circle cx="200.92" cy="132.40" r="1.55"/>
<circle cx="210.76" cy="132.40" r="1.55"/>
<circle cx="220.60" cy="132.40" r="1.55"/>
<circle cx="230.44" cy="132.40" r="1.55"/>
<circle cx="240.28" cy="132.40" r="1.55"/>
<circle cx="250.12" cy="132.40" r="1.55"/>
<circle cx="259.96" cy="132.40" r="1.55"/>
<circle cx="269.80" cy="132.40" r="1.55"/>
<circle cx="279.64" cy="132.40" r="1.55"/>
<circle cx="289.48" cy="132.40" r="1.55"/>
<circle cx="299.32" cy="132.40" r="1.55"/>
<circle cx="309.16" cy="132.40" r="1.55"/>
<circle cx="319.00" cy="132.40" r="1.55"/>
<circle cx="328.84" cy="132.40" r="1.55"/>
<circle cx="338.68" cy="132.40" r="1.55"/>
<circle cx="348.52" cy="132.40" r="1.55"/>
<circle cx="358.36" cy="132.40" r="1.55"/>
<circle cx="368.20" cy="132.40" r="1.55"/>
</g>
<polyline points="122.20,114.08 132.04,115.03 141.88,116.26 151.72,117.59 161.56,118.97 171.40,120.35 181.24,121.72 191.08,123.14 200.92,124.54 210.76,125.91 220.60,127.18 230.44,128.41 240.28,129.45 250.12,130.23 259.96,130.89 269.80,131.42 279.64,131.90 289.48,132.15 299.32,131.93 309.16,131.42 319.00,130.43 328.84,128.81 338.68,126.35 348.52,123.69 358.36,120.25 368.20,116.26 378.04,111.38" fill="none" stroke="#de7d00" stroke-width="0.8" clip-path="url(#ci)"/>
<g fill="#de7d00">
<circle cx="132.04" cy="115.03" r="1.55"/>
<circle cx="141.88" cy="116.26" r="1.55"/>
<circle cx="151.72" cy="117.59" r="1.55"/>
<circle cx="161.56" cy="118.97" r="1.55"/>
<circle cx="171.40" cy="120.35" r="1.55"/>
<circle cx="181.24" cy="121.72" r="1.55"/>
<circle cx="191.08" cy="123.14" r="1.55"/>
<circle cx="200.92" cy="124.54" r="1.55"/>
<circle cx="210.76" cy="125.91" r="1.55"/>
<circle cx="220.60" cy="127.18" r="1.55"/>
<circle cx="230.44" cy="128.41" r="1.55"/>
<circle cx="240.28" cy="129.45" r="1.55"/>
<circle cx="250.12" cy="130.23" r="1.55"/>
<circle cx="259.96" cy="130.89" r="1.55"/>
<circle cx="269.80" cy="131.42" r="1.55"/>
<circle cx="279.64" cy="131.90" r="1.55"/>
<circle cx="289.48" cy="132.15" r="1.55"/>
<circle cx="299.32" cy="131.93" r="1.55"/>
<circle cx="309.16" cy="131.42" r="1.55"/>
<circle cx="319.00" cy="130.43" r="1.55"/>
<circle cx="328.84" cy="128.81" r="1.55"/>
<circle cx="338.68" cy="126.35" r="1.55"/>
<circle cx="348.52" cy="123.69" r="1.55"/>
<circle cx="358.36" cy="120.25" r="1.55"/>
<circle cx="368.20" cy="116.26" r="1.55"/>
</g>
<polyline points="122.20,120.90 132.04,121.85 141.88,122.83 151.72,123.83 161.56,124.79 171.40,125.66 181.24,126.44 191.08,127.16 200.92,127.85 210.76,128.49 220.60,129.10 230.44,129.66 240.28,130.19 250.12,130.81 259.96,131.17 269.80,131.07 279.64,130.41 289.48,129.15 299.32,127.09 309.16,125.36 319.00,122.90 328.84,119.71 338.68,115.87 348.52,112.08 358.36,107.36 368.20,102.04 378.04,96.81" fill="none" stroke="#008000" stroke-width="0.8" clip-path="url(#ci)"/>
<g fill="#008000">
<circle cx="132.04" cy="121.85" r="1.55"/>
<circle cx="141.88" cy="122.83" r="1.55"/>
<circle cx="151.72" cy="123.83" r="1.55"/>
<circle cx="161.56" cy="124.79" r="1.55"/>
<circle cx="171.40" cy="125.66" r="1.55"/>
<circle cx="181.24" cy="126.44" r="1.55"/>
<circle cx="191.08" cy="127.16" r="1.55"/>
<circle cx="200.92" cy="127.85" r="1.55"/>
<circle cx="210.76" cy="128.49" r="1.55"/>
<circle cx="220.60" cy="129.10" r="1.55"/>
<circle cx="230.44" cy="129.66" r="1.55"/>
<circle cx="240.28" cy="130.19" r="1.55"/>
<circle cx="250.12" cy="130.81" r="1.55"/>
<circle cx="259.96" cy="131.17" r="1.55"/>
<circle cx="269.80" cy="131.07" r="1.55"/>
<circle cx="279.64" cy="130.41" r="1.55"/>
<circle cx="289.48" cy="129.15" r="1.55"/>
<circle cx="299.32" cy="127.09" r="1.55"/>
<circle cx="309.16" cy="125.36" r="1.55"/>
<circle cx="319.00" cy="122.90" r="1.55"/>
<circle cx="328.84" cy="119.71" r="1.55"/>
<circle cx="338.68" cy="115.87" r="1.55"/>
<circle cx="348.52" cy="112.08" r="1.55"/>
<circle cx="358.36" cy="107.36" r="1.55"/>
<circle cx="368.20" cy="102.04" r="1.55"/>
</g>
<g style="font-family:'Liberation Serif',serif" font-size="21.7" fill="#000" stroke="#000" stroke-width="0.3">
<text x="171.40" y="207.1" text-anchor="middle">0.35</text>
<text x="220.60" y="207.1" text-anchor="middle">0.4</text>
<text x="269.80" y="207.1" text-anchor="middle">0.45</text>
<text x="319.00" y="207.1" text-anchor="middle">0.5</text>
<text x="368.20" y="207.1" text-anchor="middle">0.55</text>
<text x="121.7" y="91.30" text-anchor="end">0.1</text>
<text x="121.7" y="140.70" text-anchor="end">0</text>
<text x="121.7" y="192.10" text-anchor="end"><tspan dx="0.7" dy="-0.7" stroke-width="0.75">–</tspan><tspan dx="0.7" dy="0.7">0.1</tspan></text>
</g>
</svg>
</body></html>
